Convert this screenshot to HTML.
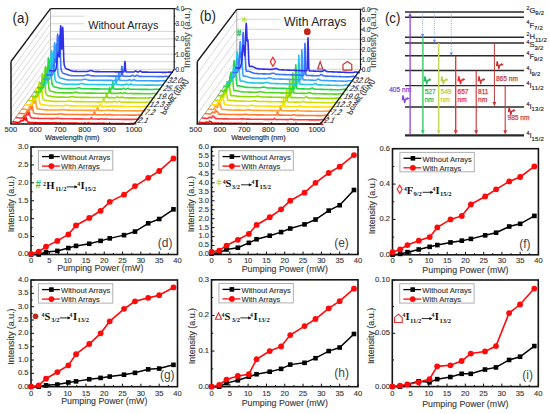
<!DOCTYPE html>
<html><head><meta charset="utf-8"><style>
html,body{margin:0;padding:0;background:#fff;width:550px;height:414px;overflow:hidden}
svg{display:block}
</style></head><body>
<svg width="550" height="414" viewBox="0 0 550 414">
<rect width="550" height="414" fill="#fff"/>
<path d="M31 254.5v-3M40.16 254.5v-1.7M49.31 254.5v-3M58.47 254.5v-1.7M67.62 254.5v-3M76.78 254.5v-1.7M85.94 254.5v-3M95.09 254.5v-1.7M104.25 254.5v-3M113.41 254.5v-1.7M122.56 254.5v-3M131.72 254.5v-1.7M140.88 254.5v-3M150.03 254.5v-1.7M159.19 254.5v-3M168.34 254.5v-1.7M177.5 254.5v-3M31 254.5h3M31 245.54h1.7M31 236.58h3M31 227.62h1.7M31 218.67h3M31 209.71h1.7M31 200.75h3M31 191.79h1.7M31 182.83h3M31 173.88h1.7M31 164.92h3M31 155.96h1.7M31 147h3" stroke="#111" stroke-width="1" fill="none"/>
<rect x="31" y="147" width="146.5" height="107.5" fill="none" stroke="#151515" stroke-width="1.6"/>
<g font-family="Liberation Sans" font-size="7.6" fill="#333" stroke="#333" stroke-width="0.12" text-anchor="middle"><text x="31" y="262.7">0</text><text x="49.31" y="262.7">5</text><text x="67.62" y="262.7">10</text><text x="85.94" y="262.7">15</text><text x="104.25" y="262.7">20</text><text x="122.56" y="262.7">25</text><text x="140.88" y="262.7">30</text><text x="159.19" y="262.7">35</text><text x="177.5" y="262.7">40</text></g>
<g font-family="Liberation Sans" font-size="7.6" fill="#333" stroke="#333" stroke-width="0.12" text-anchor="end"><text x="28.6" y="256.4">0.0</text><text x="28.6" y="238.48">0.5</text><text x="28.6" y="220.57">1.0</text><text x="28.6" y="202.65">1.5</text><text x="28.6" y="184.73">2.0</text><text x="28.6" y="166.82">2.5</text><text x="28.6" y="148.9">3.0</text></g>
<text transform="translate(100.25,271.4) scale(0.9,1)" font-family="Liberation Sans" font-size="9.8" fill="#333" stroke="#333" stroke-width="0.1" text-anchor="middle">Pumping Power (mW)</text>
<text transform="translate(13.5,204.15) rotate(-90)" font-family="Liberation Sans" font-size="8.9" fill="#333" stroke="#333" stroke-width="0.12" text-anchor="middle">Intensity (a.u.)</text>
<polyline points="31,254.5 38.69,254.5 46.02,251.99 57.37,250.92 68.36,248.05 76.05,245.9 89.23,243.75 100.59,240.88 109.74,238.38 124.03,235.15 135.01,231.57 148.2,223.32 159.19,219.03 173.47,209.35" fill="none" stroke="#000" stroke-width="1.5"/>
<g fill="#000"><rect x="28.7" y="252.2" width="4.6" height="4.6"/><rect x="36.39" y="252.2" width="4.6" height="4.6"/><rect x="43.72" y="249.69" width="4.6" height="4.6"/><rect x="55.07" y="248.62" width="4.6" height="4.6"/><rect x="66.06" y="245.75" width="4.6" height="4.6"/><rect x="73.75" y="243.6" width="4.6" height="4.6"/><rect x="86.93" y="241.45" width="4.6" height="4.6"/><rect x="98.29" y="238.58" width="4.6" height="4.6"/><rect x="107.44" y="236.07" width="4.6" height="4.6"/><rect x="121.73" y="232.85" width="4.6" height="4.6"/><rect x="132.71" y="229.27" width="4.6" height="4.6"/><rect x="145.9" y="221.02" width="4.6" height="4.6"/><rect x="156.89" y="216.72" width="4.6" height="4.6"/><rect x="171.17" y="207.05" width="4.6" height="4.6"/></g>
<polyline points="31,253.78 38.69,251.63 46.02,246.62 57.37,240.88 68.36,234.43 76.05,225.47 89.23,217.95 100.59,210.78 109.74,201.82 124.03,194.66 135.01,186.06 148.2,177.82 159.19,171.01 173.47,158.47" fill="none" stroke="#ff0a0a" stroke-width="1.6"/>
<g fill="#ff0a0a"><circle cx="31" cy="253.78" r="2.9"/><circle cx="38.69" cy="251.63" r="2.9"/><circle cx="46.02" cy="246.62" r="2.9"/><circle cx="57.37" cy="240.88" r="2.9"/><circle cx="68.36" cy="234.43" r="2.9"/><circle cx="76.05" cy="225.47" r="2.9"/><circle cx="89.23" cy="217.95" r="2.9"/><circle cx="100.59" cy="210.78" r="2.9"/><circle cx="109.74" cy="201.82" r="2.9"/><circle cx="124.03" cy="194.66" r="2.9"/><circle cx="135.01" cy="186.06" r="2.9"/><circle cx="148.2" cy="177.82" r="2.9"/><circle cx="159.19" cy="171.01" r="2.9"/><circle cx="173.47" cy="158.47" r="2.9"/></g>
<rect x="38.4" y="150.7" width="74.4" height="19.4" fill="#fff" stroke="#b0b0b0" stroke-width="1"/>
<line x1="42" y1="156.6" x2="59.8" y2="156.6" stroke="#000" stroke-width="1.3"/>
<rect x="49.1" y="154.3" width="4.6" height="4.6" fill="#000"/>
<line x1="42" y1="166.1" x2="59.8" y2="166.1" stroke="#ff0a0a" stroke-width="1.3"/>
<circle cx="51.4" cy="166.1" r="2.9" fill="#ff0a0a"/>
<text x="61" y="159.8" font-family="Liberation Sans" font-size="7.6" fill="#333" stroke="#333" stroke-width="0.12">Without Arrays</text>
<text x="61" y="168.8" font-family="Liberation Sans" font-size="7.6" fill="#333" stroke="#333" stroke-width="0.12">With Arrays</text>
<text x="165.1" y="247.3" font-family="Liberation Sans" font-size="12" fill="#444" text-anchor="middle">(d)</text>
<path d="M211.5 254.5v-3M220.66 254.5v-1.7M229.81 254.5v-3M238.97 254.5v-1.7M248.12 254.5v-3M257.28 254.5v-1.7M266.44 254.5v-3M275.59 254.5v-1.7M284.75 254.5v-3M293.91 254.5v-1.7M303.06 254.5v-3M312.22 254.5v-1.7M321.38 254.5v-3M330.53 254.5v-1.7M339.69 254.5v-3M348.84 254.5v-1.7M358 254.5v-3M211.5 254.5h3M211.5 250.02h1.7M211.5 245.54h3M211.5 241.06h1.7M211.5 236.58h3M211.5 232.1h1.7M211.5 227.62h3M211.5 223.15h1.7M211.5 218.67h3M211.5 214.19h1.7M211.5 209.71h3M211.5 205.23h1.7M211.5 200.75h3M211.5 196.27h1.7M211.5 191.79h3M211.5 187.31h1.7M211.5 182.83h3M211.5 178.35h1.7M211.5 173.88h3M211.5 169.4h1.7M211.5 164.92h3M211.5 160.44h1.7M211.5 155.96h3M211.5 151.48h1.7M211.5 147h3" stroke="#111" stroke-width="1" fill="none"/>
<rect x="211.5" y="147" width="146.5" height="107.5" fill="none" stroke="#151515" stroke-width="1.6"/>
<g font-family="Liberation Sans" font-size="7.6" fill="#333" stroke="#333" stroke-width="0.12" text-anchor="middle"><text x="211.5" y="262.7">0</text><text x="229.81" y="262.7">5</text><text x="248.12" y="262.7">10</text><text x="266.44" y="262.7">15</text><text x="284.75" y="262.7">20</text><text x="303.06" y="262.7">25</text><text x="321.38" y="262.7">30</text><text x="339.69" y="262.7">35</text><text x="358" y="262.7">40</text></g>
<g font-family="Liberation Sans" font-size="7.6" fill="#333" stroke="#333" stroke-width="0.12" text-anchor="end"><text x="209.1" y="256.4">0.0</text><text x="209.1" y="247.44">0.5</text><text x="209.1" y="238.48">1.0</text><text x="209.1" y="229.53">1.5</text><text x="209.1" y="220.57">2.0</text><text x="209.1" y="211.61">2.5</text><text x="209.1" y="202.65">3.0</text><text x="209.1" y="193.69">3.5</text><text x="209.1" y="184.73">4.0</text><text x="209.1" y="175.78">4.5</text><text x="209.1" y="166.82">5.0</text><text x="209.1" y="157.86">5.5</text><text x="209.1" y="148.9">6.0</text></g>
<text transform="translate(284.75,271.8) scale(0.9,1)" font-family="Liberation Sans" font-size="9.8" fill="#333" stroke="#333" stroke-width="0.1" text-anchor="middle">Pumping Power (mW)</text>
<text transform="translate(193.5,204.15) rotate(-90)" font-family="Liberation Sans" font-size="8.9" fill="#333" stroke="#333" stroke-width="0.12" text-anchor="middle">Intensity (a.u.)</text>
<polyline points="211.5,253.6 219.19,252.71 226.52,249.48 237.87,247.69 248.86,242.85 256.55,239.27 269.73,235.69 281.09,232.1 290.24,228.52 304.53,224.4 315.51,219.56 328.7,210.6 339.69,205.23 353.97,190" fill="none" stroke="#000" stroke-width="1.5"/>
<g fill="#000"><rect x="209.2" y="251.3" width="4.6" height="4.6"/><rect x="216.89" y="250.41" width="4.6" height="4.6"/><rect x="224.22" y="247.18" width="4.6" height="4.6"/><rect x="235.57" y="245.39" width="4.6" height="4.6"/><rect x="246.56" y="240.55" width="4.6" height="4.6"/><rect x="254.25" y="236.97" width="4.6" height="4.6"/><rect x="267.43" y="233.39" width="4.6" height="4.6"/><rect x="278.79" y="229.8" width="4.6" height="4.6"/><rect x="287.94" y="226.22" width="4.6" height="4.6"/><rect x="302.23" y="222.1" width="4.6" height="4.6"/><rect x="313.21" y="217.26" width="4.6" height="4.6"/><rect x="326.4" y="208.3" width="4.6" height="4.6"/><rect x="337.39" y="202.93" width="4.6" height="4.6"/><rect x="351.67" y="187.7" width="4.6" height="4.6"/></g>
<polyline points="211.5,251.81 219.19,250.56 226.52,245.54 237.87,239.81 248.86,233.9 256.55,224.94 269.73,217.23 281.09,209.35 290.24,200.75 304.53,192.69 315.51,182.83 328.7,172.98 339.69,166.71 353.97,155.06" fill="none" stroke="#ff0a0a" stroke-width="1.6"/>
<g fill="#ff0a0a"><circle cx="211.5" cy="251.81" r="2.9"/><circle cx="219.19" cy="250.56" r="2.9"/><circle cx="226.52" cy="245.54" r="2.9"/><circle cx="237.87" cy="239.81" r="2.9"/><circle cx="248.86" cy="233.9" r="2.9"/><circle cx="256.55" cy="224.94" r="2.9"/><circle cx="269.73" cy="217.23" r="2.9"/><circle cx="281.09" cy="209.35" r="2.9"/><circle cx="290.24" cy="200.75" r="2.9"/><circle cx="304.53" cy="192.69" r="2.9"/><circle cx="315.51" cy="182.83" r="2.9"/><circle cx="328.7" cy="172.98" r="2.9"/><circle cx="339.69" cy="166.71" r="2.9"/><circle cx="353.97" cy="155.06" r="2.9"/></g>
<rect x="218.9" y="150.7" width="74.4" height="19.4" fill="#fff" stroke="#b0b0b0" stroke-width="1"/>
<line x1="222.5" y1="156.6" x2="240.3" y2="156.6" stroke="#000" stroke-width="1.3"/>
<rect x="229.6" y="154.3" width="4.6" height="4.6" fill="#000"/>
<line x1="222.5" y1="166.1" x2="240.3" y2="166.1" stroke="#ff0a0a" stroke-width="1.3"/>
<circle cx="231.9" cy="166.1" r="2.9" fill="#ff0a0a"/>
<text x="241.5" y="159.8" font-family="Liberation Sans" font-size="7.6" fill="#333" stroke="#333" stroke-width="0.12">Without Arrays</text>
<text x="241.5" y="168.8" font-family="Liberation Sans" font-size="7.6" fill="#333" stroke="#333" stroke-width="0.12">With Arrays</text>
<text x="341.5" y="247.3" font-family="Liberation Sans" font-size="12" fill="#444" text-anchor="middle">(e)</text>
<path d="M392.5 254.8v-3M401.62 254.8v-1.7M410.74 254.8v-3M419.86 254.8v-1.7M428.98 254.8v-3M438.09 254.8v-1.7M447.21 254.8v-3M456.33 254.8v-1.7M465.45 254.8v-3M474.57 254.8v-1.7M483.69 254.8v-3M492.81 254.8v-1.7M501.92 254.8v-3M511.04 254.8v-1.7M520.16 254.8v-3M529.28 254.8v-1.7M538.4 254.8v-3M392.5 254.8h3M392.5 237.12h1.7M392.5 219.43h3M392.5 201.75h1.7M392.5 184.07h3M392.5 166.38h1.7M392.5 148.7h3" stroke="#111" stroke-width="1" fill="none"/>
<rect x="392.5" y="148.7" width="145.9" height="106.1" fill="none" stroke="#151515" stroke-width="1.6"/>
<g font-family="Liberation Sans" font-size="7.6" fill="#333" stroke="#333" stroke-width="0.12" text-anchor="middle"><text x="392.5" y="263.4">0</text><text x="410.74" y="263.4">5</text><text x="428.98" y="263.4">10</text><text x="447.21" y="263.4">15</text><text x="465.45" y="263.4">20</text><text x="483.69" y="263.4">25</text><text x="501.92" y="263.4">30</text><text x="520.16" y="263.4">35</text><text x="538.4" y="263.4">40</text></g>
<g font-family="Liberation Sans" font-size="7.6" fill="#333" stroke="#333" stroke-width="0.12" text-anchor="end"><text x="390.1" y="256.7">0.0</text><text x="390.1" y="221.33">0.2</text><text x="390.1" y="185.97">0.4</text><text x="390.1" y="150.6">0.6</text></g>
<text transform="translate(465.45,273.1) scale(0.9,1)" font-family="Liberation Sans" font-size="9.8" fill="#333" stroke="#333" stroke-width="0.1" text-anchor="middle">Pumping Power (mW)</text>
<text transform="translate(374.5,206.05) rotate(-90)" font-family="Liberation Sans" font-size="8.9" fill="#333" stroke="#333" stroke-width="0.12" text-anchor="middle">Intensity (a.u.)</text>
<polyline points="392.5,254.8 400.16,253.92 407.45,252.15 418.76,249.5 429.7,246.84 437.36,245.07 450.5,242.42 461.8,240.65 470.92,238.89 485.15,235.35 496.09,232.7 509.22,226.51 520.16,223.85 534.39,215.9" fill="none" stroke="#000" stroke-width="1.5"/>
<g fill="#000"><rect x="390.2" y="252.5" width="4.6" height="4.6"/><rect x="397.86" y="251.62" width="4.6" height="4.6"/><rect x="405.15" y="249.85" width="4.6" height="4.6"/><rect x="416.46" y="247.19" width="4.6" height="4.6"/><rect x="427.4" y="244.54" width="4.6" height="4.6"/><rect x="435.06" y="242.77" width="4.6" height="4.6"/><rect x="448.2" y="240.12" width="4.6" height="4.6"/><rect x="459.5" y="238.35" width="4.6" height="4.6"/><rect x="468.62" y="236.59" width="4.6" height="4.6"/><rect x="482.85" y="233.05" width="4.6" height="4.6"/><rect x="493.79" y="230.4" width="4.6" height="4.6"/><rect x="506.92" y="224.21" width="4.6" height="4.6"/><rect x="517.86" y="221.55" width="4.6" height="4.6"/><rect x="532.09" y="213.6" width="4.6" height="4.6"/></g>
<polyline points="392.5,252.15 400.16,249.5 407.45,245.07 418.76,240.65 429.7,237.12 437.36,227.39 450.5,219.43 461.8,215.9 470.92,204.4 485.15,196.44 496.09,189.37 509.22,181.41 520.16,176.99 534.39,166.38" fill="none" stroke="#ff0a0a" stroke-width="1.6"/>
<g fill="#ff0a0a"><circle cx="392.5" cy="252.15" r="2.9"/><circle cx="400.16" cy="249.5" r="2.9"/><circle cx="407.45" cy="245.07" r="2.9"/><circle cx="418.76" cy="240.65" r="2.9"/><circle cx="429.7" cy="237.12" r="2.9"/><circle cx="437.36" cy="227.39" r="2.9"/><circle cx="450.5" cy="219.43" r="2.9"/><circle cx="461.8" cy="215.9" r="2.9"/><circle cx="470.92" cy="204.4" r="2.9"/><circle cx="485.15" cy="196.44" r="2.9"/><circle cx="496.09" cy="189.37" r="2.9"/><circle cx="509.22" cy="181.41" r="2.9"/><circle cx="520.16" cy="176.99" r="2.9"/><circle cx="534.39" cy="166.38" r="2.9"/></g>
<rect x="399.9" y="152.4" width="74.4" height="19.4" fill="#fff" stroke="#b0b0b0" stroke-width="1"/>
<line x1="403.5" y1="158.3" x2="421.3" y2="158.3" stroke="#000" stroke-width="1.3"/>
<rect x="410.6" y="156" width="4.6" height="4.6" fill="#000"/>
<line x1="403.5" y1="167.8" x2="421.3" y2="167.8" stroke="#ff0a0a" stroke-width="1.3"/>
<circle cx="412.9" cy="167.8" r="2.9" fill="#ff0a0a"/>
<text x="422.5" y="161.5" font-family="Liberation Sans" font-size="7.6" fill="#333" stroke="#333" stroke-width="0.12">Without Arrays</text>
<text x="422.5" y="170.5" font-family="Liberation Sans" font-size="7.6" fill="#333" stroke="#333" stroke-width="0.12">With Arrays</text>
<text x="524.9" y="247.7" font-family="Liberation Sans" font-size="12" fill="#444" text-anchor="middle">(f)</text>
<path d="M31 386.7v-3M40.16 386.7v-1.7M49.31 386.7v-3M58.47 386.7v-1.7M67.62 386.7v-3M76.78 386.7v-1.7M85.94 386.7v-3M95.09 386.7v-1.7M104.25 386.7v-3M113.41 386.7v-1.7M122.56 386.7v-3M131.72 386.7v-1.7M140.88 386.7v-3M150.03 386.7v-1.7M159.19 386.7v-3M168.34 386.7v-1.7M177.5 386.7v-3M31 386.7h3M31 380.03h1.7M31 373.36h3M31 366.69h1.7M31 360.02h3M31 353.36h1.7M31 346.69h3M31 340.02h1.7M31 333.35h3M31 326.68h1.7M31 320.01h3M31 313.34h1.7M31 306.68h3M31 300.01h1.7M31 293.34h3M31 286.67h1.7M31 280h3" stroke="#111" stroke-width="1" fill="none"/>
<rect x="31" y="280" width="146.5" height="106.7" fill="none" stroke="#151515" stroke-width="1.6"/>
<g font-family="Liberation Sans" font-size="7.6" fill="#333" stroke="#333" stroke-width="0.12" text-anchor="middle"><text x="31" y="395.5">0</text><text x="49.31" y="395.5">5</text><text x="67.62" y="395.5">10</text><text x="85.94" y="395.5">15</text><text x="104.25" y="395.5">20</text><text x="122.56" y="395.5">25</text><text x="140.88" y="395.5">30</text><text x="159.19" y="395.5">35</text><text x="177.5" y="395.5">40</text></g>
<g font-family="Liberation Sans" font-size="7.6" fill="#333" stroke="#333" stroke-width="0.12" text-anchor="end"><text x="28.6" y="388.6">0.0</text><text x="28.6" y="375.26">0.5</text><text x="28.6" y="361.92">1.0</text><text x="28.6" y="348.59">1.5</text><text x="28.6" y="335.25">2.0</text><text x="28.6" y="321.91">2.5</text><text x="28.6" y="308.57">3.0</text><text x="28.6" y="295.24">3.5</text><text x="28.6" y="281.9">4.0</text></g>
<text transform="translate(104.25,403.5) scale(0.9,1)" font-family="Liberation Sans" font-size="9.8" fill="#333" stroke="#333" stroke-width="0.1" text-anchor="middle">Pumping Power (mW)</text>
<text transform="translate(13.5,336.55) rotate(-90)" font-family="Liberation Sans" font-size="8.9" fill="#333" stroke="#333" stroke-width="0.12" text-anchor="middle">Intensity (a.u.)</text>
<polyline points="31,386.7 38.69,386.7 46.02,385.37 57.37,384.57 68.36,382.43 76.05,381.37 89.23,379.23 100.59,377.9 109.74,376.56 124.03,374.7 135.01,372.83 148.2,369.36 159.19,368.56 173.47,364.83" fill="none" stroke="#000" stroke-width="1.5"/>
<g fill="#000"><rect x="28.7" y="384.4" width="4.6" height="4.6"/><rect x="36.39" y="384.4" width="4.6" height="4.6"/><rect x="43.72" y="383.07" width="4.6" height="4.6"/><rect x="55.07" y="382.27" width="4.6" height="4.6"/><rect x="66.06" y="380.13" width="4.6" height="4.6"/><rect x="73.75" y="379.06" width="4.6" height="4.6"/><rect x="86.93" y="376.93" width="4.6" height="4.6"/><rect x="98.29" y="375.6" width="4.6" height="4.6"/><rect x="107.44" y="374.26" width="4.6" height="4.6"/><rect x="121.73" y="372.4" width="4.6" height="4.6"/><rect x="132.71" y="370.53" width="4.6" height="4.6"/><rect x="145.9" y="367.06" width="4.6" height="4.6"/><rect x="156.89" y="366.26" width="4.6" height="4.6"/><rect x="171.17" y="362.53" width="4.6" height="4.6"/></g>
<polyline points="31,386.7 38.69,385.37 46.02,378.7 57.37,372.03 68.36,365.36 76.05,354.16 89.23,344.02 100.59,333.35 109.74,321.35 124.03,308.81 135.01,301.34 148.2,297.87 159.19,295.2 173.47,287.47" fill="none" stroke="#ff0a0a" stroke-width="1.6"/>
<g fill="#ff0a0a"><circle cx="31" cy="386.7" r="2.9"/><circle cx="38.69" cy="385.37" r="2.9"/><circle cx="46.02" cy="378.7" r="2.9"/><circle cx="57.37" cy="372.03" r="2.9"/><circle cx="68.36" cy="365.36" r="2.9"/><circle cx="76.05" cy="354.16" r="2.9"/><circle cx="89.23" cy="344.02" r="2.9"/><circle cx="100.59" cy="333.35" r="2.9"/><circle cx="109.74" cy="321.35" r="2.9"/><circle cx="124.03" cy="308.81" r="2.9"/><circle cx="135.01" cy="301.34" r="2.9"/><circle cx="148.2" cy="297.87" r="2.9"/><circle cx="159.19" cy="295.2" r="2.9"/><circle cx="173.47" cy="287.47" r="2.9"/></g>
<rect x="38.4" y="283.7" width="74.4" height="19.4" fill="#fff" stroke="#b0b0b0" stroke-width="1"/>
<line x1="42" y1="289.6" x2="59.8" y2="289.6" stroke="#000" stroke-width="1.3"/>
<rect x="49.1" y="287.3" width="4.6" height="4.6" fill="#000"/>
<line x1="42" y1="299.1" x2="59.8" y2="299.1" stroke="#ff0a0a" stroke-width="1.3"/>
<circle cx="51.4" cy="299.1" r="2.9" fill="#ff0a0a"/>
<text x="61" y="292.8" font-family="Liberation Sans" font-size="7.6" fill="#333" stroke="#333" stroke-width="0.12">Without Arrays</text>
<text x="61" y="301.8" font-family="Liberation Sans" font-size="7.6" fill="#333" stroke="#333" stroke-width="0.12">With Arrays</text>
<text x="167.3" y="378.6" font-family="Liberation Sans" font-size="12" fill="#444" text-anchor="middle">(g)</text>
<path d="M211.5 386.7v-3M220.66 386.7v-1.7M229.81 386.7v-3M238.97 386.7v-1.7M248.12 386.7v-3M257.28 386.7v-1.7M266.44 386.7v-3M275.59 386.7v-1.7M284.75 386.7v-3M293.91 386.7v-1.7M303.06 386.7v-3M312.22 386.7v-1.7M321.38 386.7v-3M330.53 386.7v-1.7M339.69 386.7v-3M348.84 386.7v-1.7M358 386.7v-3M211.5 386.7h3M211.5 368.88h1.7M211.5 351.07h3M211.5 333.25h1.7M211.5 315.43h3M211.5 297.62h1.7M211.5 279.8h3" stroke="#111" stroke-width="1" fill="none"/>
<rect x="211.5" y="279.8" width="146.5" height="106.9" fill="none" stroke="#151515" stroke-width="1.6"/>
<g font-family="Liberation Sans" font-size="7.6" fill="#333" stroke="#333" stroke-width="0.12" text-anchor="middle"><text x="211.5" y="396">0</text><text x="229.81" y="396">5</text><text x="248.12" y="396">10</text><text x="266.44" y="396">15</text><text x="284.75" y="396">20</text><text x="303.06" y="396">25</text><text x="321.38" y="396">30</text><text x="339.69" y="396">35</text><text x="358" y="396">40</text></g>
<g font-family="Liberation Sans" font-size="7.6" fill="#333" stroke="#333" stroke-width="0.12" text-anchor="end"><text x="209.1" y="388.6">0.0</text><text x="209.1" y="352.97">0.1</text><text x="209.1" y="317.33">0.2</text><text x="209.1" y="281.7">0.3</text></g>
<text transform="translate(284.75,405.7) scale(0.9,1)" font-family="Liberation Sans" font-size="9.8" fill="#333" stroke="#333" stroke-width="0.1" text-anchor="middle">Pumping Power (mW)</text>
<text transform="translate(194.5,336.05) rotate(-90)" font-family="Liberation Sans" font-size="8.9" fill="#333" stroke="#333" stroke-width="0.12" text-anchor="middle">Intensity (a.u.)</text>
<polyline points="211.5,386.7 219.19,386.7 226.52,383.14 237.87,380.29 248.86,376.72 256.55,374.23 269.73,371.73 281.09,368.88 290.24,364.61 304.53,362.83 315.51,358.19 328.7,351.07 339.69,347.5 353.97,333.96" fill="none" stroke="#000" stroke-width="1.5"/>
<g fill="#000"><rect x="209.2" y="384.4" width="4.6" height="4.6"/><rect x="216.89" y="384.4" width="4.6" height="4.6"/><rect x="224.22" y="380.84" width="4.6" height="4.6"/><rect x="235.57" y="377.99" width="4.6" height="4.6"/><rect x="246.56" y="374.42" width="4.6" height="4.6"/><rect x="254.25" y="371.93" width="4.6" height="4.6"/><rect x="267.43" y="369.43" width="4.6" height="4.6"/><rect x="278.79" y="366.58" width="4.6" height="4.6"/><rect x="287.94" y="362.31" width="4.6" height="4.6"/><rect x="302.23" y="360.53" width="4.6" height="4.6"/><rect x="313.21" y="355.89" width="4.6" height="4.6"/><rect x="326.4" y="348.77" width="4.6" height="4.6"/><rect x="337.39" y="345.2" width="4.6" height="4.6"/><rect x="351.67" y="331.66" width="4.6" height="4.6"/></g>
<polyline points="211.5,386.7 219.19,384.92 226.52,379.57 237.87,376.01 248.86,374.23 256.55,359.26 269.73,351.07 281.09,346.43 290.24,335.03 304.53,326.12 315.51,319 328.7,308.31 339.69,301.18 353.97,288.71" fill="none" stroke="#ff0a0a" stroke-width="1.6"/>
<g fill="#ff0a0a"><circle cx="211.5" cy="386.7" r="2.9"/><circle cx="219.19" cy="384.92" r="2.9"/><circle cx="226.52" cy="379.57" r="2.9"/><circle cx="237.87" cy="376.01" r="2.9"/><circle cx="248.86" cy="374.23" r="2.9"/><circle cx="256.55" cy="359.26" r="2.9"/><circle cx="269.73" cy="351.07" r="2.9"/><circle cx="281.09" cy="346.43" r="2.9"/><circle cx="290.24" cy="335.03" r="2.9"/><circle cx="304.53" cy="326.12" r="2.9"/><circle cx="315.51" cy="319" r="2.9"/><circle cx="328.7" cy="308.31" r="2.9"/><circle cx="339.69" cy="301.18" r="2.9"/><circle cx="353.97" cy="288.71" r="2.9"/></g>
<rect x="218.9" y="283.5" width="74.4" height="19.4" fill="#fff" stroke="#b0b0b0" stroke-width="1"/>
<line x1="222.5" y1="289.4" x2="240.3" y2="289.4" stroke="#000" stroke-width="1.3"/>
<rect x="229.6" y="287.1" width="4.6" height="4.6" fill="#000"/>
<line x1="222.5" y1="298.9" x2="240.3" y2="298.9" stroke="#ff0a0a" stroke-width="1.3"/>
<circle cx="231.9" cy="298.9" r="2.9" fill="#ff0a0a"/>
<text x="241.5" y="292.6" font-family="Liberation Sans" font-size="7.6" fill="#333" stroke="#333" stroke-width="0.12">Without Arrays</text>
<text x="241.5" y="301.6" font-family="Liberation Sans" font-size="7.6" fill="#333" stroke="#333" stroke-width="0.12">With Arrays</text>
<text x="341.6" y="376.5" font-family="Liberation Sans" font-size="12" fill="#444" text-anchor="middle">(h)</text>
<path d="M392.3 386.6v-3M401.43 386.6v-1.7M410.55 386.6v-3M419.68 386.6v-1.7M428.8 386.6v-3M437.93 386.6v-1.7M447.05 386.6v-3M456.18 386.6v-1.7M465.3 386.6v-3M474.42 386.6v-1.7M483.55 386.6v-3M492.67 386.6v-1.7M501.8 386.6v-3M510.92 386.6v-1.7M520.05 386.6v-3M529.17 386.6v-1.7M538.3 386.6v-3M392.3 386.6h3M392.3 359.95h1.7M392.3 333.3h3M392.3 306.65h1.7M392.3 280h3" stroke="#111" stroke-width="1" fill="none"/>
<rect x="392.3" y="280" width="146" height="106.6" fill="none" stroke="#151515" stroke-width="1.6"/>
<g font-family="Liberation Sans" font-size="7.6" fill="#333" stroke="#333" stroke-width="0.12" text-anchor="middle"><text x="392.3" y="395.9">0</text><text x="410.55" y="395.9">5</text><text x="428.8" y="395.9">10</text><text x="447.05" y="395.9">15</text><text x="465.3" y="395.9">20</text><text x="483.55" y="395.9">25</text><text x="501.8" y="395.9">30</text><text x="520.05" y="395.9">35</text><text x="538.3" y="395.9">40</text></g>
<g font-family="Liberation Sans" font-size="7.6" fill="#333" stroke="#333" stroke-width="0.12" text-anchor="end"><text x="389.9" y="388.5">0.00</text><text x="389.9" y="335.2">0.05</text><text x="389.9" y="281.9">0.10</text></g>
<text transform="translate(465.3,406.8) scale(0.9,1)" font-family="Liberation Sans" font-size="9.8" fill="#333" stroke="#333" stroke-width="0.1" text-anchor="middle">Pumping Power (mW)</text>
<text transform="translate(373.5,336) rotate(-90)" font-family="Liberation Sans" font-size="8.9" fill="#333" stroke="#333" stroke-width="0.12" text-anchor="middle">Intensity (a.u.)</text>
<polyline points="392.3,386.6 399.97,386.6 407.26,384.47 418.58,381.27 429.53,382.34 437.19,379.14 450.33,377.01 461.65,373.81 470.77,373.81 485.01,369.54 495.96,367.41 509.1,359.95 520.05,356.75 534.28,346.09" fill="none" stroke="#000" stroke-width="1.5"/>
<g fill="#000"><rect x="390" y="384.3" width="4.6" height="4.6"/><rect x="397.67" y="384.3" width="4.6" height="4.6"/><rect x="404.96" y="382.17" width="4.6" height="4.6"/><rect x="416.28" y="378.97" width="4.6" height="4.6"/><rect x="427.23" y="380.04" width="4.6" height="4.6"/><rect x="434.89" y="376.84" width="4.6" height="4.6"/><rect x="448.03" y="374.71" width="4.6" height="4.6"/><rect x="459.35" y="371.51" width="4.6" height="4.6"/><rect x="468.47" y="371.51" width="4.6" height="4.6"/><rect x="482.71" y="367.24" width="4.6" height="4.6"/><rect x="493.66" y="365.11" width="4.6" height="4.6"/><rect x="506.8" y="357.65" width="4.6" height="4.6"/><rect x="517.75" y="354.45" width="4.6" height="4.6"/><rect x="531.99" y="343.79" width="4.6" height="4.6"/></g>
<polyline points="392.3,386.6 399.97,385.53 407.26,384.47 418.58,382.34 429.53,379.14 437.19,366.35 450.33,365.28 461.65,361.02 470.77,353.55 485.01,351.42 495.96,346.09 509.1,313.05 520.05,304.52 534.28,288.53" fill="none" stroke="#ff0a0a" stroke-width="1.6"/>
<g fill="#ff0a0a"><circle cx="392.3" cy="386.6" r="2.9"/><circle cx="399.97" cy="385.53" r="2.9"/><circle cx="407.26" cy="384.47" r="2.9"/><circle cx="418.58" cy="382.34" r="2.9"/><circle cx="429.53" cy="379.14" r="2.9"/><circle cx="437.19" cy="366.35" r="2.9"/><circle cx="450.33" cy="365.28" r="2.9"/><circle cx="461.65" cy="361.02" r="2.9"/><circle cx="470.77" cy="353.55" r="2.9"/><circle cx="485.01" cy="351.42" r="2.9"/><circle cx="495.96" cy="346.09" r="2.9"/><circle cx="509.1" cy="313.05" r="2.9"/><circle cx="520.05" cy="304.52" r="2.9"/><circle cx="534.28" cy="288.53" r="2.9"/></g>
<rect x="399.7" y="283.7" width="74.4" height="19.4" fill="#fff" stroke="#b0b0b0" stroke-width="1"/>
<line x1="403.3" y1="289.6" x2="421.1" y2="289.6" stroke="#000" stroke-width="1.3"/>
<rect x="410.4" y="287.3" width="4.6" height="4.6" fill="#000"/>
<line x1="403.3" y1="299.1" x2="421.1" y2="299.1" stroke="#ff0a0a" stroke-width="1.3"/>
<circle cx="412.7" cy="299.1" r="2.9" fill="#ff0a0a"/>
<text x="422.3" y="292.8" font-family="Liberation Sans" font-size="7.6" fill="#333" stroke="#333" stroke-width="0.12">Without Arrays</text>
<text x="422.3" y="301.8" font-family="Liberation Sans" font-size="7.6" fill="#333" stroke="#333" stroke-width="0.12">With Arrays</text>
<text x="527.6" y="379" font-family="Liberation Sans" font-size="12" fill="#444" text-anchor="middle">(i)</text>
<g font-family="Liberation Serif" font-weight="bold" fill="#111"><text x="42.9" y="185.6" font-size="5.8">2</text><text x="46.2" y="188.6" font-size="10.6">H</text><text x="55.2" y="190.8" font-size="6.5">11/2</text><path d="M66.7 186.9H77.2" stroke="#111" stroke-width="0.9"/><path d="M77.5 186.9l-3 -1.6v3.2z" fill="#111"/><text x="77.3" y="185.6" font-size="5.8">4</text><text x="80.6" y="188.6" font-size="10.6">I</text><text x="84.4" y="190.8" font-size="6.5">15/2</text></g>
<g font-family="Liberation Serif" font-weight="bold" fill="#111"><text x="222.7" y="183.5" font-size="5.8">4</text><text x="225.5" y="186.5" font-size="10.6">S</text><text x="231.8" y="188.7" font-size="6.5">3/2</text><path d="M241 184.8H251.5" stroke="#111" stroke-width="0.9"/><path d="M251.8 184.8l-3 -1.6v3.2z" fill="#111"/><text x="251.6" y="183.5" font-size="5.8">4</text><text x="254.8" y="186.5" font-size="10.6">I</text><text x="259.4" y="188.7" font-size="6.5">15/2</text></g>
<g font-family="Liberation Serif" font-weight="bold" fill="#111"><text x="404.1" y="191" font-size="5.8">4</text><text x="406.8" y="194" font-size="10.6">F</text><text x="413.4" y="196.2" font-size="6.5">9/2</text><path d="M422.5 192.3H433" stroke="#111" stroke-width="0.9"/><path d="M433.3 192.3l-3 -1.6v3.2z" fill="#111"/><text x="432.6" y="191" font-size="5.8">4</text><text x="435.4" y="194" font-size="10.6">I</text><text x="440" y="196.2" font-size="6.5">15/2</text></g>
<g font-family="Liberation Serif" font-weight="bold" fill="#111"><text x="41.5" y="316.6" font-size="5.8">4</text><text x="44.5" y="319.6" font-size="10.6">S</text><text x="51.3" y="321.8" font-size="6.5">3/2</text><path d="M59.7 317.9H70.2" stroke="#111" stroke-width="0.9"/><path d="M70.5 317.9l-3 -1.6v3.2z" fill="#111"/><text x="69.6" y="316.6" font-size="5.8">4</text><text x="72.9" y="319.6" font-size="10.6">I</text><text x="77.4" y="321.8" font-size="6.5">13/2</text></g>
<g font-family="Liberation Serif" font-weight="bold" fill="#111"><text x="221.6" y="316.6" font-size="5.8">4</text><text x="224.5" y="319.6" font-size="10.6">S</text><text x="231.7" y="321.8" font-size="6.5">3/2</text><path d="M240.4 317.9H250.9" stroke="#111" stroke-width="0.9"/><path d="M251.2 317.9l-3 -1.6v3.2z" fill="#111"/><text x="250.1" y="316.6" font-size="5.8">4</text><text x="253.5" y="319.6" font-size="10.6">I</text><text x="258.1" y="321.8" font-size="6.5">13/2</text></g>
<g font-family="Liberation Serif" font-weight="bold" fill="#111"><text x="402.5" y="317.3" font-size="5.8">4</text><text x="405.5" y="320.3" font-size="10.6">I</text><text x="410" y="322.5" font-size="6.5">11/2</text><path d="M421.6 318.6H432.1" stroke="#111" stroke-width="0.9"/><path d="M432.4 318.6l-3 -1.6v3.2z" fill="#111"/><text x="431.6" y="317.3" font-size="5.8">4</text><text x="434.8" y="320.3" font-size="10.6">I</text><text x="439.4" y="322.5" font-size="6.5">13/2</text></g>
<text x="38.3" y="188.4" font-family="Liberation Sans" font-weight="bold" font-size="10" fill="#2fbf62" text-anchor="middle">#</text>
<path d="M399.7 185.1L402.2 189.2L399.7 193.4L397.2 189.2Z" fill="none" stroke="#f22" stroke-width="1.1"/>
<circle cx="35.5" cy="316.2" r="2.8" fill="#b82a1e"/>
<path d="M218.5 312.8L221.6 319.2H215.4Z" fill="none" stroke="#cc3333" stroke-width="1.1"/>
<path d="M398.4 314.2L402.2 317.4V322.5H394.6V317.4Z" fill="none" stroke="#e53030" stroke-width="1.1"/>
<path d="M11 116.41L50.5 61.71M11 108.83L50.5 54.12M11 101.24L50.5 46.54M11 93.65L50.5 38.95M11 86.06L50.5 31.36M11 78.47L50.5 23.77M11 70.89L50.5 16.19" stroke="#c8c8c8" stroke-width="0.7" fill="none"/>
<path d="M50.5 69.3H174.2M50.5 61.71H174.2M50.5 54.12H174.2M50.5 46.54H174.2M50.5 38.95H174.2M50.5 31.36H174.2M50.5 23.77H174.2M50.5 16.19H174.2" stroke="#d0d0d0" stroke-width="0.9" fill="none"/>
<rect x="84" y="12" width="89.5" height="16.5" fill="#fff"/>
<path d="M50.5 8.6V69.3" stroke="#999" stroke-width="0.8"/>
<path d="M11 124L50.5 69.3" stroke="#888" stroke-width="0.8"/>
<polyline points="12.4,121.97 12.65,121.95 12.9,121.93 13.15,121.92 13.4,121.91 13.64,121.91 13.89,121.92 14.14,121.93 14.39,121.95 14.64,121.97 14.89,122 15.14,122.03 15.39,122.06 15.64,122.1 15.89,122.14 16.14,122.18 16.38,122.21 16.63,122.25 16.88,122.29 17.13,122.32 17.38,122.36 17.63,122.38 17.88,122.41 18.13,122.42 18.38,122.43 18.62,122.42 18.87,122.4 19.12,122.34 19.37,122.25 19.62,122.11 19.87,121.92 20.12,121.7 20.37,121.43 20.62,121.16 20.87,120.9 21.12,120.68 21.36,120.54 21.61,120.49 21.86,120.54 22.11,120.67 22.36,120.84 22.61,120.96 22.86,120.89 23.11,120.48 23.36,119.68 23.61,118.63 23.85,117.72 24.1,117.39 24.35,117.82 24.6,118.77 24.85,119.7 25.1,120.09 25.35,119.76 25.6,118.89 25.85,117.99 26.09,117.59 26.34,117.94 26.59,118.89 26.84,120.01 27.09,120.95 27.34,121.56 27.59,121.87 27.84,122.02 28.09,122.09 28.34,122.15 28.59,122.2 28.83,122.26 29.08,122.31 29.33,122.35 29.58,122.38 29.83,122.4 30.08,122.42 30.33,122.43 30.58,122.44 30.83,122.45 31.08,122.46 31.32,122.47 31.57,122.48 31.82,122.49 32.07,122.51 32.32,122.52 32.57,122.53 32.82,122.55 33.07,122.56 33.32,122.58 33.56,122.59 33.81,122.61 34.06,122.62 34.31,122.64 34.56,122.65 34.81,122.66 35.06,122.67 35.31,122.69 35.56,122.7 35.81,122.7 36.05,122.71 36.3,122.72 36.55,122.73 36.8,122.73 37.05,122.74 37.3,122.75 38.05,122.76 38.79,122.77 39.54,122.78 40.29,122.79 41.04,122.8 41.78,122.81 42.53,122.81 43.28,122.82 44.02,122.83 44.77,122.84 45.52,122.85 46.26,122.85 47.01,122.86 47.76,122.87 48.5,122.88 49.25,122.88 50,122.88 50.75,122.87 51.49,122.84 52.24,122.79 52.99,122.73 53.73,122.69 54.48,122.69 55.23,122.73 55.98,122.8 56.72,122.87 57.47,122.93 58.22,122.96 58.96,122.98 59.71,122.99 60.46,123 61.2,123.01 61.95,123.02 62.7,123.03 63.45,123.03 64.19,123.04 64.94,123.05 65.69,123.06 66.43,123.06 67.18,123.07 67.93,123.08 68.67,123.09 69.42,123.1 70.17,123.1 70.92,123.11 71.66,123.12 72.41,123.13 73.16,123.13 73.9,123.14 74.65,123.15 75.4,123.16 76.14,123.17 76.89,123.17 77.64,123.18 78.39,123.19 79.13,123.2 79.88,123.2 80.63,123.21 81.37,123.22 82.12,123.23 82.87,123.24 83.12,123.24 83.37,123.24 83.61,123.24 83.86,123.25 84.11,123.25 84.36,123.25 84.61,123.25 84.86,123.26 85.11,123.26 85.36,123.26 85.61,123.26 85.86,123.27 86.1,123.27 86.35,123.27 86.6,123.27 86.85,123.28 87.1,123.28 87.35,123.27 87.6,123.22 87.85,123.08 88.1,122.89 88.34,122.79 88.59,122.9 88.84,123.09 89.09,123.23 89.34,123.29 89.59,123.3 89.84,123.31 90.09,123.31 90.34,123.31 90.59,123.32 90.84,123.32 91.08,123.32 91.33,123.32 91.58,123.33 91.83,123.33 92.08,123.33 92.33,123.33 92.58,123.34 92.83,123.34 93.08,123.34 93.33,123.34 93.57,123.35 93.82,123.35 94.07,123.35 94.32,123.36 94.57,123.36 95.32,123.37 96.06,123.37 96.81,123.38 97.56,123.35 98.31,123.22 99.05,123.1 99.8,123.23 100.55,123.38 101.29,123.42 102.04,123.4 102.79,123.26 103.53,123.15 104.28,123.28 105.03,123.43 105.78,123.47 106.52,123.48 107.27,123.49 108.02,123.5 108.76,123.51 109.51,123.51 110.26,123.52 111,123.53 111.75,123.54 112.5,123.55 113.25,123.55 113.99,123.56 114.74,123.57 115.49,123.58 116.23,123.58 116.98,123.59 117.73,123.6 118.47,123.61 119.22,123.62 119.97,123.62 120.72,123.63 121.46,123.64 122.21,123.65 122.96,123.65 123.7,123.66 124.45,123.67 125.2,123.68 125.94,123.69 126.69,123.69 127.44,123.7 128.19,123.7 128.93,123.69 129.68,123.66 130.43,123.62 131.17,123.56 131.92,123.5 132.67,123.47 133.41,123.47 134.16,123.51 134.91,123.57 135.66,123.65 136.4,123.71" fill="none" stroke="#ff1010" stroke-width="1.6" stroke-linejoin="round"/>
<polyline points="15.45,117.69 15.7,117.67 15.95,117.65 16.2,117.64 16.45,117.63 16.7,117.63 16.94,117.64 17.19,117.65 17.44,117.67 17.69,117.69 17.94,117.72 18.19,117.75 18.44,117.78 18.69,117.82 18.94,117.86 19.18,117.9 19.43,117.93 19.68,117.97 19.93,118.01 20.18,118.04 20.43,118.07 20.68,118.1 20.93,118.13 21.18,118.14 21.43,118.14 21.67,118.13 21.92,118.08 22.17,118.01 22.42,117.88 22.67,117.7 22.92,117.46 23.17,117.16 23.42,116.81 23.67,116.45 23.92,116.11 24.16,115.83 24.41,115.64 24.66,115.58 24.91,115.64 25.16,115.81 25.41,116.03 25.66,116.19 25.91,116.1 26.16,115.57 26.41,114.52 26.66,113.15 26.9,111.97 27.15,111.54 27.4,112.1 27.65,113.34 27.9,114.54 28.15,115.05 28.4,114.61 28.65,113.48 28.9,112.31 29.14,111.79 29.39,112.25 29.64,113.48 29.89,114.94 30.14,116.16 30.39,116.95 30.64,117.35 30.89,117.54 31.14,117.64 31.39,117.71 31.63,117.79 31.88,117.86 32.13,117.92 32.38,117.97 32.63,118.01 32.88,118.04 33.13,118.06 33.38,118.07 33.63,118.08 33.88,118.09 34.12,118.11 34.37,118.12 34.62,118.13 34.87,118.15 35.12,118.17 35.37,118.18 35.62,118.2 35.87,118.22 36.12,118.24 36.37,118.26 36.61,118.28 36.86,118.29 37.11,118.31 37.36,118.33 37.61,118.35 37.86,118.36 38.11,118.38 38.36,118.39 38.61,118.4 38.86,118.41 39.11,118.42 39.35,118.43 39.6,118.44 39.85,118.45 40.1,118.46 40.35,118.46 41.1,118.48 41.84,118.49 42.59,118.5 43.34,118.51 44.09,118.52 44.83,118.53 45.58,118.53 46.33,118.54 47.07,118.55 47.82,118.56 48.57,118.57 49.31,118.57 50.06,118.58 50.81,118.59 51.55,118.6 52.3,118.6 53.05,118.6 53.8,118.58 54.54,118.54 55.29,118.47 56.04,118.4 56.78,118.34 57.53,118.34 58.28,118.4 59.03,118.48 59.77,118.57 60.52,118.63 61.27,118.67 62.01,118.7 62.76,118.71 63.51,118.72 64.25,118.73 65,118.74 65.75,118.75 66.5,118.75 67.24,118.76 67.99,118.77 68.74,118.78 69.48,118.78 70.23,118.79 70.98,118.8 71.72,118.81 72.47,118.82 73.22,118.82 73.97,118.83 74.71,118.84 75.46,118.85 76.21,118.85 76.95,118.86 77.7,118.87 78.45,118.88 79.19,118.89 79.94,118.89 80.69,118.9 81.44,118.91 82.18,118.92 82.93,118.92 83.68,118.93 84.42,118.94 85.17,118.95 85.92,118.96 86.17,118.96 86.42,118.96 86.66,118.96 86.91,118.97 87.16,118.97 87.41,118.97 87.66,118.97 87.91,118.98 88.16,118.98 88.41,118.98 88.66,118.98 88.91,118.99 89.15,118.99 89.4,118.99 89.65,118.99 89.9,119 90.15,118.99 90.4,118.96 90.65,118.8 90.9,118.39 91.15,117.81 91.39,117.51 91.64,117.81 91.89,118.4 92.14,118.82 92.39,118.98 92.64,119.02 92.89,119.03 93.14,119.03 93.39,119.03 93.64,119.04 93.89,119.04 94.13,119.04 94.38,119.04 94.63,119.05 94.88,119.05 95.13,119.05 95.38,119.05 95.63,119.06 95.88,119.06 96.13,119.06 96.38,119.06 96.62,119.07 96.87,119.07 97.12,119.07 97.37,119.08 97.62,119.08 98.37,119.09 99.11,119.09 99.86,119.1 100.61,119.06 101.36,118.89 102.1,118.75 102.85,118.91 103.6,119.09 104.34,119.14 105.09,119.1 105.84,118.93 106.58,118.79 107.33,118.95 108.08,119.14 108.83,119.19 109.57,119.2 110.32,119.21 111.07,119.22 111.81,119.23 112.56,119.23 113.31,119.24 114.05,119.25 114.8,119.26 115.55,119.27 116.3,119.27 117.04,119.28 117.79,119.29 118.54,119.3 119.28,119.3 120.03,119.31 120.78,119.32 121.52,119.33 122.27,119.34 123.02,119.34 123.77,119.35 124.51,119.36 125.26,119.37 126.01,119.37 126.75,119.38 127.5,119.39 128.25,119.4 128.99,119.41 129.74,119.41 130.49,119.42 131.23,119.42 131.98,119.41 132.73,119.38 133.48,119.34 134.22,119.28 134.97,119.22 135.72,119.19 136.46,119.19 137.21,119.23 137.96,119.29 138.7,119.37 139.45,119.43" fill="none" stroke="#ff3838" stroke-width="1.6" stroke-linejoin="round"/>
<polyline points="18.5,113.41 18.75,113.39 19,113.37 19.25,113.36 19.5,113.35 19.75,113.35 19.99,113.36 20.24,113.37 20.49,113.39 20.74,113.41 20.99,113.44 21.24,113.47 21.49,113.5 21.74,113.54 21.99,113.58 22.23,113.62 22.48,113.65 22.73,113.69 22.98,113.73 23.23,113.76 23.48,113.79 23.73,113.82 23.98,113.84 24.23,113.85 24.48,113.85 24.73,113.82 24.97,113.76 25.22,113.65 25.47,113.49 25.72,113.25 25.97,112.93 26.22,112.53 26.47,112.08 26.72,111.61 26.97,111.16 27.21,110.79 27.46,110.54 27.71,110.45 27.96,110.54 28.21,110.76 28.46,111.05 28.71,111.25 28.96,111.13 29.21,110.44 29.46,109.06 29.7,107.27 29.95,105.73 30.2,105.17 30.45,105.9 30.7,107.51 30.95,109.08 31.2,109.75 31.45,109.18 31.7,107.7 31.95,106.17 32.2,105.49 32.44,106.09 32.69,107.69 32.94,109.6 33.19,111.2 33.44,112.23 33.69,112.76 33.94,113.01 34.19,113.13 34.44,113.23 34.69,113.32 34.93,113.41 35.18,113.49 35.43,113.56 35.68,113.61 35.93,113.64 36.18,113.67 36.43,113.69 36.68,113.7 36.93,113.72 37.17,113.73 37.42,113.75 37.67,113.76 37.92,113.78 38.17,113.81 38.42,113.83 38.67,113.85 38.92,113.87 39.17,113.9 39.42,113.92 39.66,113.95 39.91,113.97 40.16,113.99 40.41,114.01 40.66,114.03 40.91,114.05 41.16,114.07 41.41,114.09 41.66,114.1 41.91,114.12 42.16,114.13 42.4,114.14 42.65,114.15 42.9,114.16 43.15,114.17 43.4,114.18 44.15,114.2 44.89,114.21 45.64,114.22 46.39,114.23 47.14,114.24 47.88,114.25 48.63,114.25 49.38,114.26 50.12,114.27 50.87,114.28 51.62,114.29 52.36,114.29 53.11,114.3 53.86,114.31 54.6,114.32 55.35,114.32 56.1,114.31 56.85,114.29 57.59,114.23 58.34,114.15 59.09,114.06 59.83,114 60.58,113.99 61.33,114.06 62.08,114.16 62.82,114.26 63.57,114.34 64.32,114.39 65.06,114.42 65.81,114.43 66.56,114.44 67.3,114.45 68.05,114.46 68.8,114.47 69.55,114.47 70.29,114.48 71.04,114.49 71.79,114.5 72.53,114.5 73.28,114.51 74.03,114.52 74.77,114.53 75.52,114.54 76.27,114.54 77.02,114.55 77.76,114.56 78.51,114.57 79.26,114.57 80,114.58 80.75,114.59 81.5,114.6 82.24,114.61 82.99,114.61 83.74,114.62 84.48,114.63 85.23,114.64 85.98,114.64 86.73,114.65 87.47,114.66 88.22,114.67 88.97,114.68 89.22,114.68 89.47,114.68 89.71,114.68 89.96,114.69 90.21,114.69 90.46,114.69 90.71,114.69 90.96,114.7 91.21,114.7 91.46,114.7 91.71,114.7 91.95,114.71 92.2,114.71 92.45,114.71 92.7,114.71 92.95,114.72 93.2,114.71 93.45,114.64 93.7,114.32 93.95,113.49 94.2,112.33 94.44,111.73 94.69,112.33 94.94,113.5 95.19,114.33 95.44,114.66 95.69,114.73 95.94,114.75 96.19,114.75 96.44,114.75 96.69,114.76 96.94,114.76 97.18,114.76 97.43,114.76 97.68,114.77 97.93,114.77 98.18,114.77 98.43,114.77 98.68,114.78 98.93,114.78 99.18,114.78 99.42,114.78 99.67,114.79 99.92,114.79 100.17,114.79 100.42,114.8 100.67,114.8 101.42,114.81 102.16,114.81 102.91,114.82 103.66,114.77 104.41,114.57 105.15,114.4 105.9,114.59 106.65,114.8 107.39,114.86 108.14,114.81 108.89,114.6 109.63,114.43 110.38,114.62 111.13,114.84 111.88,114.91 112.62,114.92 113.37,114.93 114.12,114.94 114.86,114.95 115.61,114.95 116.36,114.96 117.1,114.97 117.85,114.98 118.6,114.99 119.34,114.99 120.09,115 120.84,115.01 121.59,115.02 122.33,115.02 123.08,115.03 123.83,115.04 124.57,115.05 125.32,115.06 126.07,115.06 126.81,115.07 127.56,115.08 128.31,115.09 129.06,115.09 129.8,115.1 130.55,115.11 131.3,115.12 132.04,115.13 132.79,115.13 133.54,115.14 134.28,115.14 135.03,115.13 135.78,115.1 136.53,115.06 137.27,115 138.02,114.94 138.77,114.91 139.51,114.91 140.26,114.95 141.01,115.01 141.75,115.09 142.5,115.15" fill="none" stroke="#ff7a30" stroke-width="1.6" stroke-linejoin="round"/>
<polyline points="21.55,109.13 21.8,109.11 22.05,109.09 22.3,109.08 22.55,109.07 22.79,109.07 23.04,109.08 23.29,109.09 23.54,109.11 23.79,109.13 24.04,109.16 24.29,109.19 24.54,109.22 24.79,109.26 25.04,109.3 25.28,109.34 25.53,109.37 25.78,109.41 26.03,109.45 26.28,109.48 26.53,109.51 26.78,109.54 27.03,109.55 27.28,109.56 27.53,109.54 27.77,109.49 28.02,109.39 28.27,109.21 28.52,108.95 28.77,108.58 29.02,108.08 29.27,107.47 29.52,106.78 29.77,106.05 30.02,105.36 30.26,104.79 30.51,104.41 30.76,104.28 31.01,104.4 31.26,104.74 31.51,105.18 31.76,105.49 32.01,105.3 32.26,104.24 32.51,102.14 32.75,99.4 33,97.04 33.25,96.18 33.5,97.3 33.75,99.76 34,102.16 34.25,103.19 34.5,102.31 34.75,100.05 35,97.71 35.24,96.67 35.49,97.58 35.74,100.03 35.99,102.95 36.24,105.39 36.49,106.96 36.74,107.77 36.99,108.15 37.24,108.34 37.49,108.48 37.73,108.62 37.98,108.76 38.23,108.88 38.48,108.98 38.73,109.06 38.98,109.11 39.23,109.15 39.48,109.18 39.73,109.2 39.98,109.22 40.22,109.24 40.47,109.26 40.72,109.29 40.97,109.31 41.22,109.34 41.47,109.38 41.72,109.41 41.97,109.45 42.22,109.48 42.47,109.52 42.71,109.55 42.96,109.59 43.21,109.62 43.46,109.65 43.71,109.68 43.96,109.71 44.21,109.73 44.46,109.76 44.71,109.78 44.96,109.8 45.2,109.82 45.45,109.84 45.7,109.85 45.95,109.86 46.2,109.87 46.45,109.88 47.2,109.91 47.94,109.93 48.69,109.94 49.44,109.95 50.19,109.96 50.93,109.97 51.68,109.97 52.43,109.98 53.17,109.99 53.92,110 54.67,110.01 55.41,110.01 56.16,110.02 56.91,110.03 57.65,110.03 58.4,110.04 59.15,110.03 59.9,110 60.64,109.93 61.39,109.84 62.14,109.73 62.88,109.65 63.63,109.64 64.38,109.72 65.12,109.84 65.87,109.96 66.62,110.05 67.37,110.1 68.11,110.13 68.86,110.15 69.61,110.16 70.35,110.17 71.1,110.18 71.85,110.19 72.59,110.19 73.34,110.2 74.09,110.21 74.84,110.22 75.58,110.22 76.33,110.23 77.08,110.24 77.82,110.25 78.57,110.26 79.32,110.26 80.06,110.27 80.81,110.28 81.56,110.29 82.31,110.29 83.05,110.3 83.8,110.31 84.55,110.32 85.29,110.33 86.04,110.33 86.79,110.34 87.53,110.35 88.28,110.36 89.03,110.36 89.78,110.37 90.52,110.38 91.27,110.39 92.02,110.4 92.27,110.4 92.52,110.4 92.76,110.4 93.01,110.41 93.26,110.41 93.51,110.41 93.76,110.41 94.01,110.42 94.26,110.42 94.51,110.42 94.76,110.42 95,110.43 95.25,110.43 95.5,110.43 95.75,110.43 96,110.44 96.25,110.43 96.5,110.36 96.75,110.07 97,109.3 97.25,108.21 97.49,107.65 97.74,108.21 97.99,109.31 98.24,110.08 98.49,110.38 98.74,110.46 98.99,110.47 99.24,110.47 99.49,110.47 99.74,110.48 99.98,110.48 100.23,110.48 100.48,110.48 100.73,110.49 100.98,110.49 101.23,110.49 101.48,110.49 101.73,110.5 101.98,110.5 102.23,110.5 102.47,110.5 102.72,110.51 102.97,110.51 103.22,110.51 103.47,110.52 103.72,110.52 104.47,110.53 105.21,110.53 105.96,110.54 106.71,110.48 107.45,110.25 108.2,110.05 108.95,110.26 109.7,110.51 110.44,110.58 111.19,110.52 111.94,110.28 112.68,110.07 113.43,110.29 114.18,110.55 114.92,110.63 115.67,110.64 116.42,110.65 117.17,110.66 117.91,110.67 118.66,110.67 119.41,110.68 120.15,110.69 120.9,110.7 121.65,110.71 122.39,110.71 123.14,110.72 123.89,110.73 124.64,110.74 125.38,110.74 126.13,110.75 126.88,110.76 127.62,110.77 128.37,110.78 129.12,110.78 129.87,110.79 130.61,110.8 131.36,110.81 132.11,110.81 132.85,110.82 133.6,110.83 134.35,110.84 135.09,110.85 135.84,110.85 136.59,110.86 137.33,110.86 138.08,110.85 138.83,110.82 139.58,110.78 140.32,110.72 141.07,110.66 141.82,110.63 142.56,110.63 143.31,110.67 144.06,110.73 144.81,110.81 145.55,110.87" fill="none" stroke="#ffa030" stroke-width="1.6" stroke-linejoin="round"/>
<polyline points="24.6,104.85 24.85,104.83 25.1,104.81 25.35,104.8 25.6,104.79 25.85,104.79 26.09,104.8 26.34,104.81 26.59,104.83 26.84,104.85 27.09,104.88 27.34,104.91 27.59,104.94 27.84,104.98 28.09,105.02 28.34,105.06 28.58,105.09 28.83,105.13 29.08,105.17 29.33,105.2 29.58,105.23 29.83,105.26 30.08,105.27 30.33,105.27 30.58,105.24 30.83,105.17 31.07,105.04 31.32,104.83 31.57,104.5 31.82,104.04 32.07,103.43 32.32,102.67 32.57,101.82 32.82,100.92 33.07,100.07 33.31,99.37 33.56,98.9 33.81,98.74 34.06,98.89 34.31,99.31 34.56,99.85 34.81,100.22 35.06,99.99 35.31,98.69 35.56,96.1 35.8,92.73 36.05,89.81 36.3,88.76 36.55,90.14 36.8,93.17 37.05,96.13 37.3,97.38 37.55,96.3 37.8,93.52 38.05,90.63 38.3,89.35 38.54,90.48 38.79,93.49 39.04,97.09 39.29,100.09 39.54,102.02 39.79,103.02 40.04,103.48 40.29,103.71 40.54,103.89 40.78,104.06 41.03,104.23 41.28,104.38 41.53,104.5 41.78,104.6 42.03,104.66 42.28,104.71 42.53,104.74 42.78,104.77 43.03,104.79 43.28,104.82 43.52,104.84 43.77,104.87 44.02,104.91 44.27,104.94 44.52,104.98 44.77,105.03 45.02,105.07 45.27,105.11 45.52,105.15 45.77,105.2 46.01,105.24 46.26,105.28 46.51,105.32 46.76,105.35 47.01,105.39 47.26,105.42 47.51,105.45 47.76,105.47 48.01,105.5 48.26,105.52 48.5,105.54 48.75,105.56 49,105.57 49.25,105.58 49.5,105.6 50.25,105.62 50.99,105.64 51.74,105.66 52.49,105.67 53.23,105.68 53.98,105.69 54.73,105.69 55.48,105.7 56.22,105.71 56.97,105.72 57.72,105.73 58.46,105.73 59.21,105.74 59.96,105.75 60.7,105.75 61.45,105.76 62.2,105.74 62.95,105.71 63.69,105.63 64.44,105.52 65.19,105.39 65.93,105.3 66.68,105.29 67.43,105.38 68.18,105.51 68.92,105.65 69.67,105.76 70.42,105.82 71.16,105.85 71.91,105.87 72.66,105.88 73.4,105.89 74.15,105.9 74.9,105.91 75.65,105.91 76.39,105.92 77.14,105.93 77.89,105.94 78.63,105.94 79.38,105.95 80.13,105.96 80.87,105.97 81.62,105.98 82.37,105.98 83.12,105.99 83.86,106 84.61,106.01 85.36,106.01 86.1,106.02 86.85,106.03 87.6,106.04 88.34,106.05 89.09,106.05 89.84,106.06 90.59,106.07 91.33,106.08 92.08,106.08 92.83,106.09 93.57,106.1 94.32,106.11 95.07,106.12 95.32,106.12 95.56,106.12 95.81,106.12 96.06,106.13 96.31,106.13 96.56,106.13 96.81,106.13 97.06,106.14 97.31,106.14 97.56,106.14 97.81,106.14 98.06,106.15 98.3,106.15 98.55,106.15 98.8,106.15 99.05,106.16 99.3,106.15 99.55,106.11 99.8,105.89 100.05,105.35 100.3,104.57 100.54,104.17 100.79,104.57 101.04,105.36 101.29,105.91 101.54,106.13 101.79,106.18 102.04,106.19 102.29,106.19 102.54,106.19 102.79,106.2 103.03,106.2 103.28,106.2 103.53,106.2 103.78,106.21 104.03,106.21 104.28,106.21 104.53,106.21 104.78,106.22 105.03,106.22 105.28,106.22 105.53,106.22 105.77,106.23 106.02,106.23 106.27,106.23 106.52,106.24 106.77,106.24 107.52,106.25 108.26,106.25 109.01,106.25 109.76,106.19 110.5,105.93 111.25,105.7 112,105.94 112.75,106.22 113.49,106.29 114.24,106.23 114.99,105.95 115.73,105.71 116.48,105.96 117.23,106.26 117.97,106.35 118.72,106.36 119.47,106.37 120.22,106.38 120.96,106.39 121.71,106.39 122.46,106.4 123.2,106.41 123.95,106.42 124.7,106.43 125.44,106.43 126.19,106.44 126.94,106.45 127.69,106.46 128.43,106.46 129.18,106.47 129.93,106.48 130.67,106.49 131.42,106.5 132.17,106.5 132.91,106.51 133.66,106.52 134.41,106.53 135.16,106.53 135.9,106.54 136.65,106.55 137.4,106.56 138.14,106.57 138.89,106.57 139.64,106.58 140.38,106.58 141.13,106.57 141.88,106.54 142.63,106.5 143.37,106.44 144.12,106.38 144.87,106.35 145.61,106.35 146.36,106.39 147.11,106.45 147.85,106.53 148.6,106.59" fill="none" stroke="#ffe000" stroke-width="1.6" stroke-linejoin="round"/>
<polyline points="27.65,100.57 27.9,100.55 28.15,100.53 28.4,100.52 28.65,100.51 28.89,100.51 29.14,100.52 29.39,100.53 29.64,100.55 29.89,100.57 30.14,100.6 30.39,100.63 30.64,100.66 30.89,100.7 31.14,100.74 31.38,100.78 31.63,100.81 31.88,100.85 32.13,100.89 32.38,100.92 32.63,100.95 32.88,100.97 33.13,100.99 33.38,100.98 33.63,100.94 33.88,100.86 34.12,100.71 34.37,100.46 34.62,100.08 34.87,99.54 35.12,98.83 35.37,97.96 35.62,96.97 35.87,95.93 36.12,94.95 36.36,94.13 36.61,93.59 36.86,93.4 37.11,93.58 37.36,94.06 37.61,94.69 37.86,95.12 38.11,94.86 38.36,93.34 38.61,90.35 38.85,86.45 39.1,83.08 39.35,81.87 39.6,83.46 39.85,86.96 40.1,90.38 40.35,91.83 40.6,90.58 40.85,87.36 41.1,84.03 41.34,82.55 41.59,83.84 41.84,87.33 42.09,91.49 42.34,94.96 42.59,97.19 42.84,98.34 43.09,98.88 43.34,99.15 43.59,99.35 43.83,99.55 44.08,99.75 44.33,99.92 44.58,100.06 44.83,100.17 45.08,100.24 45.33,100.29 45.58,100.33 45.83,100.36 46.08,100.39 46.33,100.42 46.57,100.45 46.82,100.48 47.07,100.52 47.32,100.56 47.57,100.61 47.82,100.66 48.07,100.71 48.32,100.75 48.57,100.8 48.81,100.85 49.06,100.9 49.31,100.95 49.56,100.99 49.81,101.03 50.06,101.07 50.31,101.11 50.56,101.14 50.81,101.17 51.06,101.2 51.3,101.22 51.55,101.24 51.8,101.26 52.05,101.28 52.3,101.3 52.55,101.31 53.3,101.34 54.04,101.36 54.79,101.38 55.54,101.39 56.28,101.4 57.03,101.41 57.78,101.41 58.53,101.42 59.27,101.43 60.02,101.44 60.77,101.45 61.51,101.45 62.26,101.46 63.01,101.47 63.75,101.47 64.5,101.47 65.25,101.46 66,101.42 66.74,101.33 67.49,101.2 68.24,101.06 68.98,100.96 69.73,100.95 70.48,101.04 71.22,101.19 71.97,101.35 72.72,101.46 73.47,101.53 74.21,101.57 74.96,101.59 75.71,101.6 76.45,101.61 77.2,101.62 77.95,101.63 78.69,101.63 79.44,101.64 80.19,101.65 80.94,101.66 81.68,101.66 82.43,101.67 83.18,101.68 83.92,101.69 84.67,101.7 85.42,101.7 86.16,101.71 86.91,101.72 87.66,101.73 88.41,101.73 89.15,101.74 89.9,101.75 90.65,101.76 91.39,101.77 92.14,101.77 92.89,101.78 93.63,101.79 94.38,101.8 95.13,101.8 95.88,101.81 96.62,101.82 97.37,101.83 98.12,101.84 98.37,101.84 98.62,101.84 98.86,101.84 99.11,101.85 99.36,101.85 99.61,101.85 99.86,101.85 100.11,101.86 100.36,101.86 100.61,101.86 100.86,101.86 101.1,101.87 101.35,101.87 101.6,101.87 101.85,101.87 102.1,101.88 102.35,101.87 102.6,101.78 102.85,101.41 103.1,100.45 103.35,99.09 103.59,98.39 103.84,99.09 104.09,100.46 104.34,101.43 104.59,101.8 104.84,101.89 105.09,101.91 105.34,101.91 105.59,101.91 105.84,101.92 106.09,101.92 106.33,101.92 106.58,101.92 106.83,101.93 107.08,101.93 107.33,101.93 107.58,101.93 107.83,101.94 108.08,101.94 108.33,101.94 108.57,101.94 108.82,101.95 109.07,101.95 109.32,101.95 109.57,101.96 109.82,101.96 110.57,101.97 111.31,101.97 112.06,101.97 112.81,101.9 113.56,101.6 114.3,101.35 115.05,101.62 115.8,101.93 116.54,102.01 117.29,101.94 118.04,101.62 118.78,101.35 119.53,101.63 120.28,101.97 121.03,102.07 121.77,102.08 122.52,102.09 123.27,102.1 124.01,102.11 124.76,102.11 125.51,102.12 126.25,102.13 127,102.14 127.75,102.15 128.5,102.15 129.24,102.16 129.99,102.17 130.74,102.18 131.48,102.18 132.23,102.19 132.98,102.2 133.72,102.21 134.47,102.22 135.22,102.22 135.97,102.23 136.71,102.24 137.46,102.25 138.21,102.25 138.95,102.26 139.7,102.27 140.45,102.28 141.19,102.29 141.94,102.29 142.69,102.3 143.44,102.3 144.18,102.29 144.93,102.26 145.68,102.22 146.42,102.16 147.17,102.1 147.92,102.07 148.66,102.07 149.41,102.11 150.16,102.17 150.91,102.25 151.65,102.31" fill="none" stroke="#c8e000" stroke-width="1.6" stroke-linejoin="round"/>
<polyline points="30.7,96.29 30.95,96.27 31.2,96.25 31.45,96.24 31.7,96.23 31.94,96.23 32.19,96.24 32.44,96.25 32.69,96.27 32.94,96.29 33.19,96.32 33.44,96.35 33.69,96.38 33.94,96.42 34.19,96.46 34.43,96.5 34.68,96.53 34.93,96.57 35.18,96.61 35.43,96.64 35.68,96.67 35.93,96.69 36.18,96.7 36.43,96.69 36.68,96.64 36.92,96.54 37.17,96.35 37.42,96.05 37.67,95.6 37.92,94.96 38.17,94.11 38.42,93.08 38.67,91.9 38.92,90.66 39.17,89.49 39.41,88.52 39.66,87.88 39.91,87.65 40.16,87.86 40.41,88.43 40.66,89.17 40.91,89.69 41.16,89.37 41.41,87.57 41.66,84.02 41.9,79.38 42.15,75.37 42.4,73.93 42.65,75.82 42.9,79.98 43.15,84.05 43.4,85.78 43.65,84.28 43.9,80.45 44.15,76.49 44.39,74.73 44.64,76.27 44.89,80.42 45.14,85.36 45.39,89.49 45.64,92.14 45.89,93.51 46.14,94.14 46.39,94.47 46.64,94.71 46.88,94.95 47.13,95.18 47.38,95.38 47.63,95.55 47.88,95.68 48.13,95.77 48.38,95.83 48.63,95.87 48.88,95.91 49.13,95.94 49.38,95.97 49.62,96.01 49.87,96.05 50.12,96.09 50.37,96.14 50.62,96.2 50.87,96.25 51.12,96.31 51.37,96.37 51.62,96.43 51.86,96.48 52.11,96.54 52.36,96.59 52.61,96.65 52.86,96.69 53.11,96.74 53.36,96.78 53.61,96.82 53.86,96.86 54.11,96.89 54.35,96.92 54.6,96.94 54.85,96.97 55.1,96.99 55.35,97.01 55.6,97.02 56.35,97.06 57.09,97.08 57.84,97.1 58.59,97.11 59.33,97.12 60.08,97.13 60.83,97.13 61.58,97.14 62.32,97.15 63.07,97.16 63.82,97.17 64.56,97.17 65.31,97.18 66.06,97.19 66.8,97.19 67.55,97.19 68.3,97.18 69.05,97.13 69.79,97.03 70.54,96.89 71.29,96.72 72.03,96.61 72.78,96.6 73.53,96.7 74.28,96.87 75.02,97.04 75.77,97.17 76.52,97.25 77.26,97.29 78.01,97.31 78.76,97.32 79.5,97.33 80.25,97.34 81,97.35 81.75,97.35 82.49,97.36 83.24,97.37 83.99,97.38 84.73,97.38 85.48,97.39 86.23,97.4 86.97,97.41 87.72,97.42 88.47,97.42 89.22,97.43 89.96,97.44 90.71,97.45 91.46,97.45 92.2,97.46 92.95,97.47 93.7,97.48 94.44,97.49 95.19,97.49 95.94,97.5 96.69,97.51 97.43,97.52 98.18,97.52 98.93,97.53 99.67,97.54 100.42,97.55 101.17,97.56 101.42,97.56 101.66,97.56 101.91,97.56 102.16,97.57 102.41,97.57 102.66,97.57 102.91,97.57 103.16,97.58 103.41,97.58 103.66,97.58 103.91,97.58 104.16,97.59 104.4,97.59 104.65,97.59 104.9,97.59 105.15,97.6 105.4,97.58 105.65,97.49 105.9,97.06 106.15,95.96 106.4,94.41 106.64,93.61 106.89,94.41 107.14,95.97 107.39,97.08 107.64,97.51 107.89,97.61 108.14,97.63 108.39,97.63 108.64,97.63 108.89,97.64 109.13,97.64 109.38,97.64 109.63,97.64 109.88,97.65 110.13,97.65 110.38,97.65 110.63,97.65 110.88,97.66 111.13,97.66 111.38,97.66 111.62,97.66 111.87,97.67 112.12,97.67 112.37,97.67 112.62,97.68 112.87,97.68 113.62,97.69 114.36,97.69 115.11,97.69 115.86,97.61 116.6,97.28 117.35,97 118.1,97.3 118.85,97.64 119.59,97.73 120.34,97.65 121.09,97.29 121.83,96.99 122.58,97.31 123.33,97.68 124.07,97.79 124.82,97.8 125.57,97.81 126.32,97.82 127.06,97.83 127.81,97.83 128.56,97.84 129.3,97.85 130.05,97.86 130.8,97.87 131.54,97.87 132.29,97.88 133.04,97.89 133.79,97.9 134.53,97.9 135.28,97.91 136.03,97.92 136.77,97.93 137.52,97.94 138.27,97.94 139.01,97.95 139.76,97.96 140.51,97.97 141.26,97.97 142,97.98 142.75,97.99 143.5,98 144.24,98.01 144.99,98.01 145.74,98.02 146.48,98.02 147.23,98.01 147.98,97.98 148.73,97.94 149.47,97.88 150.22,97.82 150.97,97.79 151.71,97.79 152.46,97.83 153.21,97.89 153.95,97.97 154.7,98.03" fill="none" stroke="#8cdc00" stroke-width="1.6" stroke-linejoin="round"/>
<polyline points="33.75,92.01 34,91.99 34.25,91.97 34.5,91.96 34.75,91.95 34.99,91.95 35.24,91.96 35.49,91.97 35.74,91.99 35.99,92.01 36.24,92.04 36.49,92.07 36.74,92.1 36.99,92.14 37.24,92.18 37.48,92.21 37.73,92.25 37.98,92.29 38.23,92.33 38.48,92.36 38.73,92.39 38.98,92.41 39.23,92.41 39.48,92.4 39.73,92.34 39.98,92.22 40.22,92.01 40.47,91.67 40.72,91.15 40.97,90.42 41.22,89.46 41.47,88.28 41.72,86.94 41.97,85.53 42.22,84.2 42.47,83.1 42.71,82.37 42.96,82.11 43.21,82.34 43.46,82.99 43.71,83.84 43.96,84.42 44.21,84.06 44.46,82.02 44.71,77.98 44.95,72.7 45.2,68.15 45.45,66.51 45.7,68.66 45.95,73.39 46.2,78.01 46.45,79.97 46.7,78.28 46.95,73.92 47.2,69.42 47.45,67.42 47.69,69.17 47.94,73.88 48.19,79.5 48.44,84.19 48.69,87.2 48.94,88.76 49.19,89.48 49.44,89.85 49.69,90.12 49.94,90.39 50.18,90.65 50.43,90.88 50.68,91.07 50.93,91.22 51.18,91.32 51.43,91.39 51.68,91.44 51.93,91.47 52.18,91.51 52.42,91.55 52.67,91.59 52.92,91.64 53.17,91.69 53.42,91.74 53.67,91.8 53.92,91.87 54.17,91.93 54.42,92 54.67,92.06 54.91,92.13 55.16,92.19 55.41,92.25 55.66,92.31 55.91,92.37 56.16,92.42 56.41,92.46 56.66,92.51 56.91,92.55 57.16,92.59 57.41,92.62 57.65,92.65 57.9,92.67 58.15,92.7 58.4,92.72 58.65,92.73 59.4,92.77 60.14,92.8 60.89,92.82 61.64,92.83 62.39,92.84 63.13,92.85 63.88,92.85 64.63,92.86 65.37,92.87 66.12,92.88 66.87,92.89 67.61,92.89 68.36,92.9 69.11,92.91 69.85,92.91 70.6,92.91 71.35,92.89 72.1,92.84 72.84,92.73 73.59,92.57 74.34,92.39 75.08,92.26 75.83,92.25 76.58,92.36 77.33,92.55 78.07,92.74 78.82,92.88 79.57,92.96 80.31,93.01 81.06,93.03 81.81,93.04 82.55,93.05 83.3,93.06 84.05,93.07 84.8,93.07 85.54,93.08 86.29,93.09 87.04,93.1 87.78,93.1 88.53,93.11 89.28,93.12 90.02,93.13 90.77,93.14 91.52,93.14 92.27,93.15 93.01,93.16 93.76,93.17 94.51,93.17 95.25,93.18 96,93.19 96.75,93.2 97.49,93.21 98.24,93.21 98.99,93.22 99.73,93.23 100.48,93.24 101.23,93.24 101.98,93.25 102.72,93.26 103.47,93.27 104.22,93.28 104.47,93.28 104.72,93.28 104.96,93.28 105.21,93.29 105.46,93.29 105.71,93.29 105.96,93.29 106.21,93.3 106.46,93.3 106.71,93.3 106.96,93.3 107.2,93.31 107.45,93.31 107.7,93.31 107.95,93.31 108.2,93.32 108.45,93.3 108.7,93.16 108.95,92.55 109.2,90.98 109.45,88.77 109.69,87.63 109.94,88.77 110.19,90.99 110.44,92.57 110.69,93.18 110.94,93.32 111.19,93.35 111.44,93.35 111.69,93.35 111.94,93.36 112.19,93.36 112.43,93.36 112.68,93.36 112.93,93.37 113.18,93.37 113.43,93.37 113.68,93.37 113.93,93.38 114.18,93.38 114.43,93.38 114.67,93.38 114.92,93.39 115.17,93.39 115.42,93.39 115.67,93.4 115.92,93.4 116.67,93.41 117.41,93.41 118.16,93.41 118.91,93.32 119.66,92.96 120.4,92.65 121.15,92.97 121.9,93.35 122.64,93.45 123.39,93.36 124.14,92.96 124.88,92.63 125.63,92.98 126.38,93.39 127.12,93.51 127.87,93.52 128.62,93.53 129.37,93.54 130.11,93.55 130.86,93.55 131.61,93.56 132.35,93.57 133.1,93.58 133.85,93.59 134.59,93.59 135.34,93.6 136.09,93.61 136.84,93.62 137.58,93.62 138.33,93.63 139.08,93.64 139.82,93.65 140.57,93.66 141.32,93.66 142.06,93.67 142.81,93.68 143.56,93.69 144.31,93.69 145.05,93.7 145.8,93.71 146.55,93.72 147.29,93.73 148.04,93.73 148.79,93.74 149.53,93.74 150.28,93.73 151.03,93.7 151.78,93.66 152.52,93.6 153.27,93.54 154.02,93.51 154.76,93.51 155.51,93.55 156.26,93.61 157,93.69 157.75,93.75" fill="none" stroke="#50d820" stroke-width="1.6" stroke-linejoin="round"/>
<polyline points="36.8,87.73 37.05,87.71 37.3,87.69 37.55,87.68 37.8,87.67 38.04,87.67 38.29,87.68 38.54,87.69 38.79,87.71 39.04,87.73 39.29,87.76 39.54,87.79 39.79,87.82 40.04,87.86 40.29,87.9 40.53,87.93 40.78,87.97 41.03,88.01 41.28,88.05 41.53,88.08 41.78,88.11 42.03,88.13 42.28,88.13 42.53,88.1 42.78,88.04 43.02,87.89 43.27,87.65 43.52,87.24 43.77,86.64 44.02,85.79 44.27,84.67 44.52,83.31 44.77,81.75 45.02,80.12 45.27,78.57 45.52,77.29 45.76,76.44 46.01,76.14 46.26,76.41 46.51,77.17 46.76,78.15 47.01,78.82 47.26,78.41 47.51,76.04 47.76,71.35 48,65.23 48.25,59.95 48.5,58.04 48.75,60.54 49,66.03 49.25,71.38 49.5,73.66 49.75,71.69 50,66.64 50.25,61.42 50.49,59.1 50.74,61.13 50.99,66.59 51.24,73.11 51.49,78.54 51.74,82.04 51.99,83.85 52.24,84.68 52.49,85.11 52.74,85.43 52.98,85.74 53.23,86.04 53.48,86.31 53.73,86.53 53.98,86.7 54.23,86.81 54.48,86.89 54.73,86.95 54.98,86.99 55.23,87.04 55.47,87.08 55.72,87.13 55.97,87.18 56.22,87.24 56.47,87.3 56.72,87.37 56.97,87.45 57.22,87.52 57.47,87.6 57.72,87.67 57.96,87.75 58.21,87.82 58.46,87.89 58.71,87.96 58.96,88.02 59.21,88.08 59.46,88.14 59.71,88.19 59.96,88.23 60.21,88.27 60.45,88.31 60.7,88.34 60.95,88.37 61.2,88.4 61.45,88.42 61.7,88.44 62.45,88.49 63.19,88.51 63.94,88.53 64.69,88.55 65.44,88.56 66.18,88.57 66.93,88.57 67.68,88.58 68.42,88.59 69.17,88.6 69.92,88.61 70.66,88.61 71.41,88.62 72.16,88.63 72.91,88.63 73.65,88.63 74.4,88.61 75.15,88.55 75.89,88.43 76.64,88.25 77.39,88.06 78.13,87.91 78.88,87.9 79.63,88.02 80.38,88.22 81.12,88.43 81.87,88.59 82.62,88.68 83.36,88.73 84.11,88.75 84.86,88.76 85.6,88.77 86.35,88.78 87.1,88.79 87.84,88.79 88.59,88.8 89.34,88.81 90.09,88.82 90.83,88.82 91.58,88.83 92.33,88.84 93.07,88.85 93.82,88.86 94.57,88.86 95.31,88.87 96.06,88.88 96.81,88.89 97.56,88.89 98.3,88.9 99.05,88.91 99.8,88.92 100.54,88.93 101.29,88.93 102.04,88.94 102.78,88.95 103.53,88.96 104.28,88.96 105.03,88.97 105.77,88.98 106.52,88.99 107.27,89 107.52,89 107.77,89 108.01,89 108.26,89.01 108.51,89.01 108.76,89.01 109.01,89.01 109.26,89.02 109.51,89.02 109.76,89.02 110.01,89.02 110.25,89.03 110.5,89.03 110.75,89.03 111,89.03 111.25,89.03 111.5,89.01 111.75,88.83 112,88.04 112.25,86.01 112.5,83.12 112.74,81.65 112.99,83.13 113.24,86.02 113.49,88.06 113.74,88.85 113.99,89.04 114.24,89.07 114.49,89.07 114.74,89.07 114.99,89.08 115.23,89.08 115.48,89.08 115.73,89.08 115.98,89.09 116.23,89.09 116.48,89.09 116.73,89.09 116.98,89.1 117.23,89.1 117.48,89.1 117.72,89.1 117.97,89.11 118.22,89.11 118.47,89.11 118.72,89.12 118.97,89.12 119.72,89.13 120.46,89.13 121.21,89.13 121.96,89.03 122.7,88.64 123.45,88.3 124.2,88.65 124.95,89.06 125.69,89.17 126.44,89.07 127.19,88.63 127.93,88.27 128.68,88.65 129.43,89.1 130.18,89.22 130.92,89.24 131.67,89.25 132.42,89.26 133.16,89.27 133.91,89.27 134.66,89.28 135.4,89.29 136.15,89.3 136.9,89.31 137.64,89.31 138.39,89.32 139.14,89.33 139.89,89.34 140.63,89.34 141.38,89.35 142.13,89.36 142.87,89.37 143.62,89.38 144.37,89.38 145.12,89.39 145.86,89.4 146.61,89.41 147.36,89.41 148.1,89.42 148.85,89.43 149.6,89.44 150.34,89.45 151.09,89.45 151.84,89.46 152.58,89.46 153.33,89.45 154.08,89.42 154.83,89.38 155.57,89.32 156.32,89.26 157.07,89.23 157.81,89.23 158.56,89.27 159.31,89.33 160.06,89.41 160.8,89.47" fill="none" stroke="#22d844" stroke-width="1.6" stroke-linejoin="round"/>
<polyline points="39.85,83.45 40.1,83.43 40.35,83.41 40.6,83.4 40.85,83.39 41.09,83.39 41.34,83.4 41.59,83.41 41.84,83.43 42.09,83.45 42.34,83.48 42.59,83.51 42.84,83.54 43.09,83.58 43.34,83.62 43.59,83.65 43.83,83.69 44.08,83.73 44.33,83.77 44.58,83.8 44.83,83.83 45.08,83.84 45.33,83.84 45.58,83.81 45.83,83.74 46.08,83.58 46.32,83.3 46.57,82.86 46.82,82.19 47.07,81.25 47.32,80.02 47.57,78.51 47.82,76.79 48.07,74.99 48.32,73.28 48.56,71.87 48.81,70.93 49.06,70.6 49.31,70.9 49.56,71.73 49.81,72.81 50.06,73.56 50.31,73.1 50.56,70.48 50.81,65.31 51.05,58.56 51.3,52.73 51.55,50.62 51.8,53.38 52.05,59.43 52.3,65.34 52.55,67.86 52.8,65.68 53.05,60.11 53.3,54.35 53.55,51.79 53.79,54.03 54.04,60.05 54.29,67.24 54.54,73.24 54.79,77.1 55.04,79.1 55.29,80.02 55.54,80.48 55.79,80.84 56.03,81.18 56.28,81.51 56.53,81.81 56.78,82.05 57.03,82.24 57.28,82.36 57.53,82.45 57.78,82.51 58.03,82.56 58.28,82.61 58.53,82.66 58.77,82.71 59.02,82.77 59.27,82.83 59.52,82.9 59.77,82.98 60.02,83.06 60.27,83.14 60.52,83.23 60.77,83.31 61.02,83.39 61.26,83.47 61.51,83.55 61.76,83.62 62.01,83.69 62.26,83.76 62.51,83.82 62.76,83.87 63.01,83.92 63.26,83.97 63.51,84.01 63.75,84.05 64,84.08 64.25,84.11 64.5,84.13 64.75,84.15 65.5,84.2 66.24,84.23 66.99,84.25 67.74,84.27 68.48,84.28 69.23,84.29 69.98,84.29 70.73,84.3 71.47,84.31 72.22,84.32 72.97,84.33 73.71,84.33 74.46,84.34 75.21,84.35 75.95,84.35 76.7,84.35 77.45,84.33 78.2,84.26 78.94,84.13 79.69,83.94 80.44,83.72 81.18,83.57 81.93,83.55 82.68,83.68 83.43,83.9 84.17,84.13 84.92,84.29 85.67,84.39 86.41,84.44 87.16,84.47 87.91,84.48 88.65,84.49 89.4,84.5 90.15,84.51 90.9,84.51 91.64,84.52 92.39,84.53 93.14,84.54 93.88,84.54 94.63,84.55 95.38,84.56 96.12,84.57 96.87,84.58 97.62,84.58 98.37,84.59 99.11,84.6 99.86,84.61 100.61,84.61 101.35,84.62 102.1,84.63 102.85,84.64 103.59,84.65 104.34,84.65 105.09,84.66 105.84,84.67 106.58,84.68 107.33,84.68 108.08,84.69 108.82,84.7 109.57,84.71 110.32,84.72 110.57,84.72 110.81,84.72 111.06,84.72 111.31,84.73 111.56,84.73 111.81,84.73 112.06,84.73 112.31,84.74 112.56,84.74 112.81,84.74 113.06,84.74 113.31,84.75 113.55,84.75 113.8,84.75 114.05,84.75 114.3,84.75 114.55,84.73 114.8,84.55 115.05,83.75 115.3,81.68 115.55,78.76 115.79,77.27 116.04,78.77 116.29,81.69 116.54,83.77 116.79,84.57 117.04,84.76 117.29,84.79 117.54,84.79 117.79,84.79 118.04,84.8 118.28,84.8 118.53,84.8 118.78,84.8 119.03,84.81 119.28,84.81 119.53,84.81 119.78,84.81 120.03,84.82 120.28,84.82 120.53,84.82 120.78,84.82 121.02,84.83 121.27,84.83 121.52,84.83 121.77,84.84 122.02,84.84 122.77,84.85 123.51,84.85 124.26,84.85 125.01,84.74 125.75,84.31 126.5,83.95 127.25,84.33 128,84.77 128.74,84.89 129.49,84.78 130.24,84.31 130.98,83.91 131.73,84.32 132.48,84.81 133.22,84.94 133.97,84.96 134.72,84.97 135.47,84.98 136.21,84.99 136.96,84.99 137.71,85 138.45,85.01 139.2,85.02 139.95,85.03 140.69,85.03 141.44,85.04 142.19,85.05 142.94,85.06 143.68,85.06 144.43,85.07 145.18,85.08 145.92,85.09 146.67,85.1 147.42,85.1 148.16,85.11 148.91,85.12 149.66,85.13 150.41,85.13 151.15,85.14 151.9,85.15 152.65,85.16 153.39,85.17 154.14,85.17 154.89,85.18 155.63,85.18 156.38,85.17 157.13,85.14 157.88,85.1 158.62,85.04 159.37,84.98 160.12,84.95 160.86,84.95 161.61,84.99 162.36,85.05 163.1,85.13 163.85,85.19" fill="none" stroke="#22c8e8" stroke-width="1.6" stroke-linejoin="round"/>
<polyline points="42.9,79.17 43.15,79.15 43.4,79.13 43.65,79.12 43.9,79.11 44.14,79.11 44.39,79.12 44.64,79.13 44.89,79.15 45.14,79.17 45.39,79.2 45.64,79.23 45.89,79.26 46.14,79.3 46.39,79.34 46.63,79.37 46.88,79.41 47.13,79.45 47.38,79.49 47.63,79.52 47.88,79.55 48.13,79.56 48.38,79.56 48.63,79.52 48.88,79.43 49.12,79.26 49.37,78.95 49.62,78.45 49.87,77.71 50.12,76.67 50.37,75.3 50.62,73.62 50.87,71.72 51.12,69.72 51.37,67.83 51.61,66.26 51.86,65.22 52.11,64.84 52.36,65.18 52.61,66.1 52.86,67.3 53.11,68.12 53.36,67.62 53.61,64.71 53.86,58.97 54.1,51.48 54.35,45.02 54.6,42.68 54.85,45.74 55.1,52.46 55.35,59.01 55.6,61.8 55.85,59.39 56.1,53.21 56.35,46.81 56.59,43.97 56.84,46.45 57.09,53.14 57.34,61.12 57.59,67.77 57.84,72.05 58.09,74.27 58.34,75.28 58.59,75.8 58.84,76.2 59.08,76.57 59.33,76.94 59.58,77.27 59.83,77.54 60.08,77.74 60.33,77.89 60.58,77.98 60.83,78.05 61.08,78.11 61.33,78.16 61.58,78.21 61.82,78.27 62.07,78.33 62.32,78.41 62.57,78.48 62.82,78.57 63.07,78.66 63.32,78.75 63.57,78.84 63.82,78.93 64.06,79.02 64.31,79.11 64.56,79.2 64.81,79.28 65.06,79.36 65.31,79.43 65.56,79.49 65.81,79.56 66.06,79.61 66.31,79.66 66.56,79.71 66.8,79.75 67.05,79.78 67.3,79.81 67.55,79.84 67.8,79.86 68.55,79.92 69.29,79.95 70.04,79.97 70.79,79.99 71.53,80 72.28,80.01 73.03,80.01 73.78,80.02 74.52,80.03 75.27,80.04 76.02,80.05 76.76,80.05 77.51,80.06 78.26,80.07 79,80.07 79.75,80.07 80.5,80.04 81.25,79.97 81.99,79.83 82.74,79.62 83.49,79.39 84.23,79.22 84.98,79.2 85.73,79.34 86.47,79.58 87.22,79.82 87.97,80 88.72,80.11 89.46,80.16 90.21,80.19 90.96,80.2 91.7,80.21 92.45,80.22 93.2,80.23 93.94,80.23 94.69,80.24 95.44,80.25 96.19,80.26 96.93,80.26 97.68,80.27 98.43,80.28 99.17,80.29 99.92,80.3 100.67,80.3 101.41,80.31 102.16,80.32 102.91,80.33 103.66,80.33 104.4,80.34 105.15,80.35 105.9,80.36 106.64,80.37 107.39,80.37 108.14,80.38 108.88,80.39 109.63,80.4 110.38,80.4 111.13,80.41 111.87,80.42 112.62,80.43 113.37,80.44 113.62,80.44 113.87,80.44 114.11,80.44 114.36,80.45 114.61,80.45 114.86,80.45 115.11,80.45 115.36,80.46 115.61,80.46 115.86,80.46 116.11,80.46 116.35,80.47 116.6,80.47 116.85,80.47 117.1,80.47 117.35,80.47 117.6,80.45 117.85,80.23 118.1,79.31 118.35,76.91 118.6,73.52 118.84,71.79 119.09,73.53 119.34,76.92 119.59,79.32 119.84,80.25 120.09,80.47 120.34,80.51 120.59,80.51 120.84,80.51 121.09,80.52 121.34,80.52 121.58,80.52 121.83,80.52 122.08,80.53 122.33,80.53 122.58,80.53 122.83,80.53 123.08,80.54 123.33,80.54 123.58,80.54 123.82,80.54 124.07,80.55 124.32,80.55 124.57,80.55 124.82,80.56 125.07,80.56 125.82,80.57 126.56,80.57 127.31,80.57 128.06,80.45 128.81,79.99 129.55,79.6 130.3,80.01 131.05,80.48 131.79,80.6 132.54,80.49 133.29,79.98 134.03,79.55 134.78,79.99 135.53,80.52 136.28,80.66 137.02,80.68 137.77,80.69 138.52,80.7 139.26,80.71 140.01,80.71 140.76,80.72 141.5,80.73 142.25,80.74 143,80.75 143.75,80.75 144.49,80.76 145.24,80.77 145.99,80.78 146.73,80.78 147.48,80.79 148.23,80.8 148.97,80.81 149.72,80.82 150.47,80.82 151.22,80.83 151.96,80.84 152.71,80.85 153.46,80.85 154.2,80.86 154.95,80.87 155.7,80.88 156.44,80.89 157.19,80.89 157.94,80.9 158.69,80.9 159.43,80.89 160.18,80.86 160.93,80.82 161.67,80.76 162.42,80.7 163.17,80.67 163.91,80.67 164.66,80.71 165.41,80.77 166.16,80.85 166.9,80.91" fill="none" stroke="#3aa0ff" stroke-width="1.6" stroke-linejoin="round"/>
<polyline points="45.95,74.89 46.2,74.87 46.45,74.85 46.7,74.84 46.95,74.83 47.19,74.83 47.44,74.84 47.69,74.85 47.94,74.87 48.19,74.89 48.44,74.92 48.69,74.95 48.94,74.98 49.19,75.02 49.44,75.06 49.68,75.09 49.93,75.13 50.18,75.17 50.43,75.21 50.68,75.24 50.93,75.26 51.18,75.28 51.43,75.27 51.68,75.23 51.93,75.13 52.17,74.93 52.42,74.58 52.67,74.03 52.92,73.2 53.17,72.04 53.42,70.52 53.67,68.65 53.92,66.53 54.17,64.31 54.42,62.2 54.66,60.45 54.91,59.29 55.16,58.88 55.41,59.25 55.66,60.28 55.91,61.61 56.16,62.53 56.41,61.96 56.66,58.73 56.91,52.34 57.15,44.01 57.4,36.82 57.65,34.22 57.9,37.62 58.15,45.09 58.4,52.38 58.65,55.49 58.9,52.81 59.15,45.93 59.4,38.81 59.64,35.65 59.89,38.41 60.14,45.85 60.39,54.72 60.64,62.13 60.89,66.89 61.14,69.36 61.39,70.49 61.64,71.07 61.89,71.5 62.13,71.92 62.38,72.33 62.63,72.7 62.88,73 63.13,73.22 63.38,73.38 63.63,73.49 63.88,73.57 64.13,73.63 64.38,73.68 64.62,73.74 64.87,73.8 65.12,73.88 65.37,73.96 65.62,74.04 65.87,74.14 66.12,74.23 66.37,74.34 66.62,74.44 66.87,74.54 67.11,74.64 67.36,74.74 67.61,74.83 67.86,74.92 68.11,75.01 68.36,75.09 68.61,75.16 68.86,75.23 69.11,75.29 69.36,75.35 69.6,75.4 69.85,75.44 70.1,75.48 70.35,75.52 70.6,75.55 70.85,75.57 71.6,75.63 72.34,75.67 73.09,75.69 73.84,75.71 74.58,75.72 75.33,75.73 76.08,75.73 76.83,75.74 77.57,75.75 78.32,75.76 79.07,75.77 79.81,75.77 80.56,75.78 81.31,75.79 82.05,75.79 82.8,75.79 83.55,75.76 84.3,75.68 85.04,75.53 85.79,75.31 86.54,75.05 87.28,74.87 88.03,74.85 88.78,75 89.53,75.26 90.27,75.52 91.02,75.71 91.77,75.82 92.51,75.88 93.26,75.91 94.01,75.92 94.75,75.93 95.5,75.94 96.25,75.95 97,75.95 97.74,75.96 98.49,75.97 99.24,75.98 99.98,75.98 100.73,75.99 101.48,76 102.22,76.01 102.97,76.02 103.72,76.02 104.47,76.03 105.21,76.04 105.96,76.05 106.71,76.05 107.45,76.06 108.2,76.07 108.95,76.08 109.69,76.09 110.44,76.09 111.19,76.1 111.94,76.11 112.68,76.12 113.43,76.12 114.18,76.13 114.92,76.14 115.67,76.15 116.42,76.16 116.67,76.16 116.91,76.16 117.16,76.16 117.41,76.17 117.66,76.17 117.91,76.17 118.16,76.17 118.41,76.18 118.66,76.18 118.91,76.18 119.16,76.18 119.41,76.19 119.65,76.19 119.9,76.19 120.15,76.19 120.4,76.19 120.65,76.16 120.9,75.92 121.15,74.85 121.4,72.1 121.65,68.2 121.89,66.21 122.14,68.21 122.39,72.11 122.64,74.87 122.89,75.94 123.14,76.19 123.39,76.23 123.64,76.23 123.89,76.23 124.14,76.24 124.38,76.24 124.63,76.24 124.88,76.24 125.13,76.25 125.38,76.25 125.63,76.25 125.88,76.25 126.13,76.26 126.38,76.26 126.63,76.26 126.88,76.26 127.12,76.27 127.37,76.27 127.62,76.27 127.87,76.28 128.12,76.28 128.87,76.29 129.61,76.29 130.36,76.29 131.11,76.16 131.85,75.67 132.6,75.25 133.35,75.68 134.1,76.2 134.84,76.32 135.59,76.2 136.34,75.65 137.08,75.19 137.83,75.66 138.58,76.23 139.32,76.38 140.07,76.4 140.82,76.41 141.57,76.42 142.31,76.43 143.06,76.43 143.81,76.44 144.55,76.45 145.3,76.46 146.05,76.47 146.79,76.47 147.54,76.48 148.29,76.49 149.04,76.5 149.78,76.5 150.53,76.51 151.28,76.52 152.02,76.53 152.77,76.54 153.52,76.54 154.26,76.55 155.01,76.56 155.76,76.57 156.51,76.57 157.25,76.58 158,76.59 158.75,76.6 159.49,76.61 160.24,76.61 160.99,76.62 161.73,76.62 162.48,76.61 163.23,76.58 163.98,76.54 164.72,76.48 165.47,76.42 166.22,76.39 166.96,76.39 167.71,76.43 168.46,76.49 169.2,76.57 169.95,76.63" fill="none" stroke="#3a70ff" stroke-width="1.6" stroke-linejoin="round"/>
<polyline points="49,70.61 49.25,70.59 49.5,70.57 49.75,70.56 50,70.55 50.24,70.55 50.49,70.56 50.74,70.57 50.99,70.59 51.24,70.61 51.49,70.64 51.74,70.67 51.99,70.7 52.24,70.74 52.49,70.78 52.73,70.81 52.98,70.85 53.23,70.89 53.48,70.93 53.73,70.96 53.98,70.98 54.23,70.99 54.48,70.98 54.73,70.94 54.98,70.82 55.22,70.6 55.47,70.22 55.72,69.61 55.97,68.69 56.22,67.41 56.47,65.74 56.72,63.68 56.97,61.34 57.22,58.89 57.47,56.57 57.71,54.65 57.96,53.37 58.21,52.92 58.46,53.32 58.71,54.46 58.96,55.92 59.21,56.93 59.46,56.31 59.71,52.75 59.96,45.72 60.2,36.54 60.45,28.62 60.7,25.75 60.95,29.5 61.2,37.73 61.45,45.76 61.7,49.17 61.95,46.22 62.2,38.65 62.45,30.81 62.69,27.32 62.94,30.37 63.19,38.56 63.44,48.33 63.69,56.49 63.94,61.73 64.19,64.45 64.44,65.69 64.69,66.33 64.94,66.81 65.18,67.27 65.43,67.72 65.68,68.13 65.93,68.46 66.18,68.7 66.43,68.88 66.68,69 66.93,69.08 67.18,69.15 67.43,69.21 67.67,69.27 67.92,69.34 68.17,69.42 68.42,69.51 68.67,69.6 68.92,69.71 69.17,69.81 69.42,69.92 69.67,70.04 69.92,70.15 70.16,70.26 70.41,70.37 70.66,70.47 70.91,70.57 71.16,70.67 71.41,70.75 71.66,70.83 71.91,70.91 72.16,70.98 72.41,71.04 72.66,71.09 72.9,71.14 73.15,71.18 73.4,71.22 73.65,71.25 73.9,71.28 74.65,71.35 75.39,71.38 76.14,71.41 76.89,71.42 77.63,71.44 78.38,71.45 79.13,71.45 79.88,71.46 80.62,71.47 81.37,71.48 82.12,71.49 82.86,71.49 83.61,71.5 84.36,71.51 85.1,71.51 85.85,71.51 86.6,71.48 87.35,71.39 88.09,71.23 88.84,70.99 89.59,70.72 90.33,70.53 91.08,70.5 91.83,70.66 92.57,70.93 93.32,71.21 94.07,71.42 94.82,71.54 95.56,71.6 96.31,71.63 97.06,71.64 97.8,71.65 98.55,71.66 99.3,71.67 100.04,71.67 100.79,71.68 101.54,71.69 102.29,71.7 103.03,71.7 103.78,71.71 104.53,71.72 105.27,71.73 106.02,71.74 106.77,71.74 107.51,71.75 108.26,71.76 109.01,71.77 109.76,71.77 110.5,71.78 111.25,71.79 112,71.8 112.74,71.81 113.49,71.81 114.24,71.82 114.98,71.83 115.73,71.84 116.48,71.84 117.23,71.85 117.97,71.86 118.72,71.87 119.47,71.88 119.72,71.88 119.97,71.88 120.21,71.88 120.46,71.89 120.71,71.89 120.96,71.89 121.21,71.89 121.46,71.9 121.71,71.9 121.96,71.9 122.21,71.9 122.45,71.91 122.7,71.91 122.95,71.91 123.2,71.91 123.45,71.91 123.7,71.88 123.95,71.62 124.2,70.5 124.45,67.61 124.7,63.52 124.94,61.43 125.19,63.53 125.44,67.62 125.69,70.52 125.94,71.64 126.19,71.91 126.44,71.95 126.69,71.95 126.94,71.95 127.19,71.96 127.44,71.96 127.68,71.96 127.93,71.96 128.18,71.97 128.43,71.97 128.68,71.97 128.93,71.97 129.18,71.98 129.43,71.98 129.68,71.98 129.92,71.98 130.17,71.99 130.42,71.99 130.67,71.99 130.92,72 131.17,72 131.92,72.01 132.66,72.01 133.41,72.01 134.16,71.87 134.91,71.35 135.65,70.9 136.4,71.36 137.15,71.91 137.89,72.04 138.64,71.91 139.39,71.32 140.13,70.83 140.88,71.34 141.63,71.94 142.38,72.1 143.12,72.12 143.87,72.13 144.62,72.14 145.36,72.15 146.11,72.15 146.86,72.16 147.6,72.17 148.35,72.18 149.1,72.19 149.84,72.19 150.59,72.2 151.34,72.21 152.09,72.22 152.83,72.22 153.58,72.23 154.33,72.24 155.07,72.25 155.82,72.26 156.57,72.26 157.31,72.27 158.06,72.28 158.81,72.29 159.56,72.29 160.3,72.3 161.05,72.31 161.8,72.32 162.54,72.33 163.29,72.33 164.04,72.34 164.78,72.34 165.53,72.33 166.28,72.3 167.03,72.26 167.77,72.2 168.52,72.14 169.27,72.11 170.01,72.11 170.76,72.15 171.51,72.21 172.25,72.29 173,72.35" fill="none" stroke="#3030e8" stroke-width="1.6" stroke-linejoin="round"/>
<path d="M11 61.5V124L11 124H134.3" fill="none" stroke="#1a1a1a" stroke-width="1.5"/>
<path d="M11 61.5L50.5 8.6" fill="none" stroke="#1a1a1a" stroke-width="1.4"/>
<path d="M50.5 8.6H174.2V69.3" fill="none" stroke="#1a1a1a" stroke-width="1.2"/>
<path d="M134.3 124L174.2 69.3" fill="none" stroke="#1a1a1a" stroke-width="1.3"/>
<path d="M174.2 69.3h2M174.2 61.71h1.2M174.2 54.12h2M174.2 46.54h1.2M174.2 38.95h2M174.2 31.36h1.2M174.2 23.77h2M174.2 16.19h1.2M174.2 8.6h2M11 124v-1.8M23.33 124v-1M35.66 124v-1.8M47.99 124v-1M60.32 124v-1.8M72.65 124v-1M84.98 124v-1.8M97.31 124v-1M109.64 124v-1.8M121.97 124v-1M134.3 124v-1.8" stroke="#1a1a1a" stroke-width="0.8" fill="none"/>
<g font-family="Liberation Sans" font-size="7.4" fill="#333" stroke="#333" stroke-width="0.12"><text transform="translate(175.5,71.8) scale(0.85,1)">0.0</text><text transform="translate(175.5,56.62) scale(0.85,1)">1.0</text><text transform="translate(175.5,41.45) scale(0.85,1)">2.0</text><text transform="translate(175.5,26.27) scale(0.85,1)">3.0</text><text transform="translate(175.5,11.1) scale(0.85,1)">4.0</text></g>
<text transform="translate(190,37.8) rotate(-90) scale(1,0.85)" font-family="Liberation Sans" font-size="9.6" fill="#444" stroke="#444" stroke-width="0.1" text-anchor="middle">Intensity (a.u.)</text>
<g font-family="Liberation Sans" font-size="7.6" fill="#333" stroke="#333" stroke-width="0.12" text-anchor="middle"><text x="10.9" y="131.8">500</text><text x="35.5" y="131.8">600</text><text x="60.1" y="131.8">700</text><text x="84.7" y="131.8">800</text><text x="109.3" y="131.8">900</text><text x="133.9" y="131.8">1000</text></g>
<text x="72.2" y="139.6" font-family="Liberation Sans" font-size="7.2" fill="#333" stroke="#333" stroke-width="0.2" text-anchor="middle">Wavelength (nm)</text>
<g font-family="Liberation Sans" font-size="7.8" fill="#333" stroke="#333" stroke-width="0.12"><text transform="translate(143.5,120.4) skewX(-28) scale(0.95,1)" text-anchor="middle" y="2.8">2.1</text><text transform="translate(150.3,112.4) skewX(-28) scale(0.95,1)" text-anchor="middle" y="2.8">7.2</text><text transform="translate(157.5,104.4) skewX(-28) scale(0.95,1)" text-anchor="middle" y="2.8">12.3</text><text transform="translate(165.3,95.9) skewX(-28) scale(0.95,1)" text-anchor="middle" y="2.8">19.0</text><text transform="translate(171.2,87.8) skewX(-28) scale(0.95,1)" text-anchor="middle" y="2.8">25.5</text><text transform="translate(175.5,79.8) skewX(-28) scale(0.95,1)" text-anchor="middle" y="2.8">32.0</text></g>
<text transform="translate(174.8,97.1) rotate(-54) scale(1,-1) skewX(-10)" font-family="Liberation Sans" font-size="7.6" fill="#333" stroke="#333" stroke-width="0.15" text-anchor="middle" y="2.6">Power (mW)</text>
<text transform="translate(12.6,23.2) scale(0.95,1)" font-family="Liberation Sans" font-size="14" fill="#222">(a)</text>
<text x="88.2" y="28.8" font-family="Liberation Sans" font-size="10.8" fill="#222">Without Arrays</text>
<path d="M197.3 114L236.8 59.3M197.3 104L236.8 49.3M197.3 94L236.8 39.3M197.3 84L236.8 29.3M197.3 74L236.8 19.3" stroke="#c8c8c8" stroke-width="0.7" fill="none"/>
<path d="M236.8 69.3H360.5M236.8 59.3H360.5M236.8 49.3H360.5M236.8 39.3H360.5M236.8 29.3H360.5M236.8 19.3H360.5" stroke="#d0d0d0" stroke-width="0.9" fill="none"/>
<rect x="280.3" y="13.5" width="79.3" height="20.5" fill="#fff"/>
<path d="M236.8 9.3V69.3" stroke="#999" stroke-width="0.8"/>
<path d="M197.3 124L236.8 69.3" stroke="#888" stroke-width="0.8"/>
<polyline points="198.7,122.47 198.95,122.45 199.2,122.43 199.45,122.42 199.7,122.41 199.95,122.41 200.19,122.42 200.44,122.43 200.69,122.45 200.94,122.47 201.19,122.5 201.44,122.53 201.69,122.56 201.94,122.6 202.19,122.64 202.44,122.67 202.68,122.71 202.93,122.75 203.18,122.78 203.43,122.81 203.68,122.83 203.93,122.84 204.18,122.83 204.43,122.81 204.68,122.76 204.93,122.69 205.17,122.59 205.42,122.48 205.67,122.36 205.92,122.24 206.17,122.14 206.42,122.08 206.67,122.06 206.92,122.09 207.17,122.17 207.42,122.27 207.66,122.39 207.91,122.49 208.16,122.54 208.41,122.49 208.66,122.3 208.91,121.98 209.16,121.59 209.41,121.27 209.66,121.15 209.91,121.26 210.15,121.53 210.4,121.79 210.65,121.92 210.9,121.91 211.15,121.87 211.4,121.95 211.65,122.19 211.9,122.49 212.15,122.76 212.4,122.93 212.64,123.02 212.89,123.05 213.14,123.06 213.39,123.06 213.64,123.06 213.89,123.06 214.14,123.06 214.39,123.06 214.64,123.07 214.89,123.07 215.13,123.07 215.38,123.08 215.63,123.08 215.88,123.09 216.13,123.09 216.38,123.1 216.63,123.11 216.88,123.11 217.13,123.12 217.38,123.13 217.62,123.14 217.87,123.14 218.12,123.15 218.37,123.16 218.62,123.17 218.87,123.17 219.12,123.18 219.37,123.19 219.62,123.19 219.87,123.2 220.11,123.2 220.36,123.21 220.61,123.22 220.86,123.22 221.11,123.22 221.36,123.23 221.61,123.23 221.86,123.24 222.11,123.24 222.36,123.24 222.6,123.25 222.85,123.25 223.1,123.25 223.35,123.26 223.6,123.26 224.35,123.27 225.09,123.28 225.84,123.28 226.59,123.29 227.34,123.3 228.08,123.31 228.83,123.31 229.58,123.32 230.32,123.33 231.07,123.34 231.82,123.35 232.56,123.35 233.31,123.36 234.06,123.37 234.81,123.37 235.55,123.36 236.3,123.35 237.05,123.31 237.79,123.27 238.54,123.23 239.29,123.22 240.03,123.25 240.78,123.3 241.53,123.36 242.28,123.41 243.02,123.44 243.77,123.46 244.52,123.48 245.26,123.49 246.01,123.49 246.76,123.5 247.5,123.51 248.25,123.52 249,123.53 249.75,123.53 250.49,123.54 251.24,123.55 251.99,123.56 252.73,123.56 253.48,123.57 254.23,123.58 254.97,123.59 255.72,123.6 256.47,123.6 257.22,123.61 257.96,123.62 258.71,123.63 259.46,123.63 260.2,123.64 260.95,123.65 261.7,123.66 262.44,123.67 263.19,123.67 263.94,123.68 264.69,123.69 265.43,123.7 265.68,123.7 265.93,123.7 266.18,123.7 266.43,123.71 266.68,123.71 266.93,123.71 267.18,123.72 267.42,123.72 267.67,123.72 267.92,123.72 268.17,123.73 268.42,123.73 268.67,123.73 268.92,123.73 269.17,123.74 269.42,123.74 269.67,123.74 269.91,123.74 270.16,123.74 270.41,123.73 270.66,123.68 270.91,123.55 271.16,123.36 271.41,123.26 271.66,123.36 271.91,123.56 272.16,123.7 272.4,123.76 272.65,123.77 272.9,123.77 273.15,123.78 273.4,123.78 273.65,123.78 273.9,123.79 274.15,123.79 274.4,123.79 274.64,123.79 274.89,123.8 275.14,123.8 275.39,123.8 275.64,123.8 275.89,123.81 276.14,123.81 276.39,123.81 276.64,123.81 276.89,123.82 277.13,123.82 277.38,123.82 277.63,123.82 278.38,123.83 279.13,123.84 279.87,123.85 280.62,123.86 281.37,123.86 282.12,123.87 282.86,123.88 283.61,123.89 284.36,123.89 285.1,123.89 285.85,123.86 286.6,123.73 287.34,123.57 288.09,123.55 288.84,123.7 289.59,123.86 290.33,123.94 291.08,123.96 291.83,123.97 292.57,123.98 293.32,123.99 294.07,124 294.81,124 295.56,124.01 296.31,124.02 297.06,124.03 297.8,124.03 298.55,124.04 299.3,124.05 300.04,124.06 300.79,124.07 301.54,124.07 302.28,124.08 303.03,124.09 303.78,124.1 304.53,124.1 305.27,124.11 306.02,124.12 306.77,124.13 307.51,124.14 308.26,124.14 309.01,124.15 309.75,124.16 310.5,124.17 311.25,124.18 312,124.18 312.74,124.19 313.49,124.2 314.24,124.2 314.98,124.19 315.73,124.17 316.48,124.13 317.22,124.08 317.97,124.02 318.72,123.97 319.47,123.96 320.21,123.99 320.96,124.05 321.71,124.13 322.45,124.19 323.2,124.25" fill="none" stroke="#ff1010" stroke-width="1.6" stroke-linejoin="round"/>
<polyline points="201.75,118.11 202,118.09 202.25,118.07 202.5,118.06 202.75,118.06 203,118.06 203.24,118.06 203.49,118.07 203.74,118.09 203.99,118.11 204.24,118.14 204.49,118.17 204.74,118.2 204.99,118.24 205.24,118.28 205.49,118.32 205.73,118.35 205.98,118.39 206.23,118.42 206.48,118.44 206.73,118.46 206.98,118.45 207.23,118.43 207.48,118.38 207.73,118.3 207.98,118.18 208.22,118.03 208.47,117.85 208.72,117.66 208.97,117.48 209.22,117.33 209.47,117.24 209.72,117.21 209.97,117.25 210.22,117.36 210.47,117.51 210.71,117.69 210.96,117.84 211.21,117.91 211.46,117.83 211.71,117.54 211.96,117.06 212.21,116.48 212.46,115.99 212.71,115.81 212.96,115.97 213.2,116.38 213.45,116.77 213.7,116.97 213.95,116.94 214.2,116.89 214.45,117.01 214.7,117.35 214.95,117.81 215.2,118.21 215.45,118.47 215.69,118.6 215.94,118.64 216.19,118.66 216.44,118.66 216.69,118.66 216.94,118.66 217.19,118.66 217.44,118.66 217.69,118.66 217.94,118.66 218.18,118.67 218.43,118.67 218.68,118.68 218.93,118.69 219.18,118.69 219.43,118.7 219.68,118.71 219.93,118.72 220.18,118.73 220.43,118.74 220.67,118.75 220.92,118.76 221.17,118.77 221.42,118.78 221.67,118.79 221.92,118.8 222.17,118.81 222.42,118.82 222.67,118.83 222.92,118.84 223.16,118.84 223.41,118.85 223.66,118.86 223.91,118.86 224.16,118.87 224.41,118.87 224.66,118.88 224.91,118.88 225.16,118.89 225.41,118.89 225.65,118.89 225.9,118.9 226.15,118.9 226.4,118.91 226.65,118.91 227.4,118.92 228.14,118.93 228.89,118.93 229.64,118.94 230.39,118.95 231.13,118.96 231.88,118.97 232.63,118.98 233.37,118.98 234.12,118.99 234.87,119 235.61,119.01 236.36,119.02 237.11,119.02 237.86,119.02 238.6,119.02 239.35,118.99 240.1,118.94 240.84,118.88 241.59,118.83 242.34,118.81 243.08,118.85 243.83,118.91 244.58,118.99 245.33,119.06 246.07,119.1 246.82,119.12 247.57,119.14 248.31,119.15 249.06,119.16 249.81,119.17 250.55,119.18 251.3,119.18 252.05,119.19 252.8,119.2 253.54,119.21 254.29,119.22 255.04,119.23 255.78,119.23 256.53,119.24 257.28,119.25 258.02,119.26 258.77,119.27 259.52,119.28 260.27,119.28 261.01,119.29 261.76,119.3 262.51,119.31 263.25,119.32 264,119.33 264.75,119.33 265.49,119.34 266.24,119.35 266.99,119.36 267.74,119.37 268.48,119.38 268.73,119.38 268.98,119.38 269.23,119.38 269.48,119.39 269.73,119.39 269.98,119.39 270.23,119.4 270.47,119.4 270.72,119.4 270.97,119.4 271.22,119.41 271.47,119.41 271.72,119.41 271.97,119.42 272.22,119.42 272.47,119.42 272.72,119.42 272.96,119.43 273.21,119.43 273.46,119.4 273.71,119.3 273.96,119.03 274.21,118.64 274.46,118.44 274.71,118.64 274.96,119.04 275.21,119.32 275.45,119.43 275.7,119.45 275.95,119.46 276.2,119.46 276.45,119.47 276.7,119.47 276.95,119.47 277.2,119.47 277.45,119.48 277.7,119.48 277.94,119.48 278.19,119.48 278.44,119.49 278.69,119.49 278.94,119.49 279.19,119.5 279.44,119.5 279.69,119.5 279.94,119.5 280.19,119.51 280.43,119.51 280.68,119.51 281.43,119.52 282.18,119.53 282.92,119.54 283.67,119.55 284.42,119.55 285.17,119.56 285.91,119.57 286.66,119.58 287.41,119.59 288.15,119.58 288.9,119.54 289.65,119.38 290.39,119.18 291.14,119.14 291.89,119.33 292.64,119.54 293.38,119.63 294.13,119.66 294.88,119.67 295.62,119.68 296.37,119.69 297.12,119.7 297.86,119.7 298.61,119.71 299.36,119.72 300.11,119.73 300.85,119.74 301.6,119.75 302.35,119.75 303.09,119.76 303.84,119.77 304.59,119.78 305.33,119.79 306.08,119.8 306.83,119.8 307.58,119.81 308.32,119.82 309.07,119.83 309.82,119.84 310.56,119.85 311.31,119.85 312.06,119.86 312.8,119.87 313.55,119.88 314.3,119.89 315.05,119.89 315.79,119.9 316.54,119.91 317.29,119.91 318.03,119.9 318.78,119.88 319.53,119.83 320.27,119.77 321.02,119.71 321.77,119.65 322.52,119.64 323.26,119.67 324.01,119.74 324.76,119.82 325.5,119.9 326.25,119.96" fill="none" stroke="#ff3838" stroke-width="1.6" stroke-linejoin="round"/>
<polyline points="204.8,113.69 205.05,113.67 205.3,113.65 205.55,113.64 205.8,113.64 206.05,113.64 206.29,113.64 206.54,113.65 206.79,113.67 207.04,113.69 207.29,113.72 207.54,113.75 207.79,113.78 208.04,113.82 208.29,113.86 208.54,113.9 208.78,113.93 209.03,113.97 209.28,113.99 209.53,114.01 209.78,114.01 210.03,114 210.28,113.95 210.53,113.86 210.78,113.72 211.03,113.53 211.27,113.3 211.52,113.02 211.77,112.73 212.02,112.46 212.27,112.23 212.52,112.08 212.77,112.03 213.02,112.09 213.27,112.25 213.52,112.48 213.76,112.74 214.01,112.97 214.26,113.07 214.51,112.95 214.76,112.52 215.01,111.79 215.26,110.92 215.51,110.19 215.76,109.91 216.01,110.16 216.25,110.77 216.5,111.36 216.75,111.64 217,111.61 217.25,111.53 217.5,111.7 217.75,112.22 218,112.9 218.25,113.5 218.5,113.89 218.74,114.08 218.99,114.15 219.24,114.17 219.49,114.17 219.74,114.17 219.99,114.16 220.24,114.16 220.49,114.16 220.74,114.17 220.99,114.17 221.23,114.17 221.48,114.18 221.73,114.19 221.98,114.2 222.23,114.21 222.48,114.22 222.73,114.24 222.98,114.25 223.23,114.26 223.48,114.28 223.72,114.29 223.97,114.31 224.22,114.32 224.47,114.33 224.72,114.35 224.97,114.36 225.22,114.37 225.47,114.39 225.72,114.4 225.97,114.41 226.21,114.42 226.46,114.43 226.71,114.43 226.96,114.44 227.21,114.45 227.46,114.46 227.71,114.46 227.96,114.47 228.21,114.47 228.46,114.48 228.7,114.48 228.95,114.49 229.2,114.49 229.45,114.5 229.7,114.5 230.45,114.51 231.19,114.52 231.94,114.53 232.69,114.54 233.44,114.55 234.18,114.56 234.93,114.57 235.68,114.58 236.42,114.59 237.17,114.59 237.92,114.6 238.66,114.61 239.41,114.62 240.16,114.63 240.91,114.63 241.65,114.62 242.4,114.58 243.15,114.52 243.89,114.44 244.64,114.38 245.39,114.36 246.13,114.4 246.88,114.48 247.63,114.58 248.38,114.66 249.12,114.71 249.87,114.74 250.62,114.76 251.36,114.77 252.11,114.78 252.86,114.79 253.6,114.8 254.35,114.81 255.1,114.82 255.85,114.83 256.59,114.84 257.34,114.85 258.09,114.85 258.83,114.86 259.58,114.87 260.33,114.88 261.07,114.89 261.82,114.9 262.57,114.91 263.31,114.92 264.06,114.93 264.81,114.94 265.56,114.95 266.3,114.96 267.05,114.97 267.8,114.98 268.54,114.98 269.29,114.99 270.04,115 270.79,115.01 271.53,115.02 271.78,115.03 272.03,115.03 272.28,115.03 272.53,115.03 272.78,115.04 273.03,115.04 273.27,115.04 273.52,115.05 273.77,115.05 274.02,115.05 274.27,115.06 274.52,115.06 274.77,115.06 275.02,115.07 275.27,115.07 275.52,115.07 275.76,115.07 276.01,115.08 276.26,115.07 276.51,114.99 276.76,114.63 277.01,113.69 277.26,112.37 277.51,111.7 277.76,112.38 278.01,113.7 278.25,114.65 278.5,115.01 278.75,115.1 279,115.11 279.25,115.12 279.5,115.12 279.75,115.12 280,115.13 280.25,115.13 280.5,115.13 280.75,115.14 280.99,115.14 281.24,115.14 281.49,115.15 281.74,115.15 281.99,115.15 282.24,115.16 282.49,115.16 282.74,115.16 282.99,115.16 283.24,115.17 283.48,115.17 283.73,115.17 284.48,115.18 285.23,115.19 285.97,115.2 286.72,115.21 287.47,115.22 288.22,115.23 288.96,115.24 289.71,115.25 290.46,115.26 291.2,115.25 291.95,115.19 292.7,115.01 293.44,114.76 294.19,114.72 294.94,114.95 295.69,115.19 296.43,115.31 297.18,115.34 297.93,115.35 298.67,115.36 299.42,115.37 300.17,115.38 300.91,115.39 301.66,115.4 302.41,115.41 303.16,115.42 303.9,115.42 304.65,115.43 305.4,115.44 306.14,115.45 306.89,115.46 307.64,115.47 308.38,115.48 309.13,115.49 309.88,115.5 310.62,115.51 311.37,115.52 312.12,115.53 312.87,115.54 313.61,115.55 314.36,115.55 315.11,115.56 315.85,115.57 316.6,115.58 317.35,115.59 318.1,115.6 318.84,115.61 319.59,115.62 320.34,115.62 321.08,115.61 321.83,115.58 322.58,115.53 323.32,115.46 324.07,115.39 324.82,115.33 325.56,115.31 326.31,115.35 327.06,115.43 327.81,115.52 328.55,115.61 329.3,115.67" fill="none" stroke="#ff7a30" stroke-width="1.6" stroke-linejoin="round"/>
<polyline points="207.85,109.23 208.1,109.21 208.35,109.19 208.6,109.18 208.85,109.17 209.1,109.17 209.34,109.18 209.59,109.19 209.84,109.21 210.09,109.23 210.34,109.26 210.59,109.29 210.84,109.32 211.09,109.36 211.34,109.39 211.59,109.43 211.83,109.47 212.08,109.5 212.33,109.52 212.58,109.52 212.83,109.5 213.08,109.45 213.33,109.34 213.58,109.16 213.83,108.9 214.08,108.55 214.32,108.11 214.57,107.62 214.82,107.09 215.07,106.59 215.32,106.18 215.57,105.91 215.82,105.82 216.07,105.92 216.32,106.19 216.57,106.6 216.81,107.06 217.06,107.46 217.31,107.64 217.56,107.42 217.81,106.66 218.06,105.35 218.31,103.8 218.56,102.51 218.81,102 219.06,102.45 219.3,103.52 219.55,104.57 219.8,105.08 220.05,105.02 220.3,104.87 220.55,105.18 220.8,106.1 221.05,107.31 221.3,108.37 221.55,109.06 221.79,109.39 222.04,109.51 222.29,109.54 222.54,109.54 222.79,109.54 223.04,109.53 223.29,109.53 223.54,109.53 223.79,109.53 224.04,109.53 224.28,109.54 224.53,109.55 224.78,109.57 225.03,109.58 225.28,109.6 225.53,109.62 225.78,109.64 226.03,109.66 226.28,109.68 226.53,109.71 226.77,109.73 227.02,109.75 227.27,109.78 227.52,109.8 227.77,109.82 228.02,109.84 228.27,109.86 228.52,109.88 228.77,109.9 229.02,109.92 229.26,109.93 229.51,109.95 229.76,109.96 230.01,109.97 230.26,109.98 230.51,109.99 230.76,110 231.01,110.01 231.26,110.02 231.51,110.02 231.75,110.03 232,110.04 232.25,110.04 232.5,110.05 232.75,110.05 233.5,110.06 234.24,110.08 234.99,110.09 235.74,110.1 236.49,110.11 237.23,110.12 237.98,110.13 238.73,110.14 239.47,110.15 240.22,110.16 240.97,110.17 241.71,110.18 242.46,110.19 243.21,110.2 243.96,110.2 244.7,110.18 245.45,110.14 246.2,110.07 246.94,109.97 247.69,109.89 248.44,109.87 249.18,109.91 249.93,110.01 250.68,110.13 251.43,110.23 252.17,110.29 252.92,110.33 253.67,110.35 254.41,110.36 255.16,110.37 255.91,110.38 256.65,110.39 257.4,110.4 258.15,110.41 258.9,110.42 259.64,110.44 260.39,110.45 261.14,110.46 261.88,110.47 262.63,110.48 263.38,110.49 264.12,110.5 264.87,110.51 265.62,110.52 266.37,110.53 267.11,110.54 267.86,110.55 268.61,110.56 269.35,110.57 270.1,110.58 270.85,110.59 271.59,110.6 272.34,110.61 273.09,110.62 273.84,110.64 274.58,110.65 274.83,110.65 275.08,110.65 275.33,110.66 275.58,110.66 275.83,110.66 276.08,110.67 276.33,110.67 276.57,110.67 276.82,110.68 277.07,110.68 277.32,110.68 277.57,110.69 277.82,110.69 278.07,110.7 278.32,110.7 278.57,110.7 278.82,110.71 279.06,110.71 279.31,110.69 279.56,110.57 279.81,110.04 280.06,108.67 280.31,106.72 280.56,105.73 280.81,106.73 281.06,108.68 281.31,110.06 281.55,110.6 281.8,110.73 282.05,110.75 282.3,110.75 282.55,110.76 282.8,110.76 283.05,110.77 283.3,110.77 283.55,110.77 283.8,110.78 284.04,110.78 284.29,110.78 284.54,110.79 284.79,110.79 285.04,110.79 285.29,110.8 285.54,110.8 285.79,110.8 286.04,110.81 286.29,110.81 286.53,110.81 286.78,110.82 287.53,110.83 288.28,110.84 289.02,110.85 289.77,110.86 290.52,110.87 291.27,110.88 292.01,110.89 292.76,110.9 293.51,110.91 294.25,110.91 295,110.84 295.75,110.62 296.49,110.34 297.24,110.29 297.99,110.55 298.74,110.83 299.48,110.97 300.23,111 300.98,111.02 301.72,111.03 302.47,111.04 303.22,111.05 303.96,111.06 304.71,111.07 305.46,111.08 306.21,111.09 306.95,111.1 307.7,111.11 308.45,111.12 309.19,111.13 309.94,111.14 310.69,111.15 311.43,111.17 312.18,111.18 312.93,111.19 313.68,111.2 314.42,111.21 315.17,111.22 315.92,111.23 316.66,111.24 317.41,111.25 318.16,111.26 318.9,111.27 319.65,111.28 320.4,111.29 321.15,111.3 321.89,111.31 322.64,111.32 323.39,111.32 324.13,111.31 324.88,111.28 325.63,111.23 326.37,111.15 327.12,111.07 327.87,111.01 328.62,110.99 329.36,111.03 330.11,111.11 330.86,111.22 331.6,111.31 332.35,111.39" fill="none" stroke="#ffa030" stroke-width="1.6" stroke-linejoin="round"/>
<polyline points="210.9,104.73 211.15,104.71 211.4,104.7 211.65,104.68 211.9,104.68 212.15,104.68 212.39,104.68 212.64,104.69 212.89,104.71 213.14,104.73 213.39,104.76 213.64,104.79 213.89,104.83 214.14,104.86 214.39,104.9 214.64,104.94 214.88,104.97 215.13,105 215.38,105.02 215.63,105.02 215.88,104.99 216.13,104.92 216.38,104.8 216.63,104.59 216.88,104.3 217.12,103.9 217.37,103.41 217.62,102.85 217.87,102.26 218.12,101.7 218.37,101.23 218.62,100.92 218.87,100.82 219.12,100.93 219.37,101.24 219.62,101.7 219.86,102.22 220.11,102.67 220.36,102.87 220.61,102.62 220.86,101.76 221.11,100.29 221.36,98.54 221.61,97.1 221.86,96.52 222.11,97.03 222.35,98.23 222.6,99.41 222.85,99.98 223.1,99.91 223.35,99.74 223.6,100.09 223.85,101.13 224.1,102.49 224.35,103.68 224.59,104.46 224.84,104.83 225.09,104.97 225.34,105 225.59,105 225.84,104.99 226.09,104.99 226.34,104.98 226.59,104.98 226.84,104.99 227.09,104.99 227.33,105 227.58,105.01 227.83,105.03 228.08,105.04 228.33,105.06 228.58,105.08 228.83,105.11 229.08,105.13 229.33,105.16 229.58,105.18 229.82,105.21 230.07,105.24 230.32,105.26 230.57,105.29 230.82,105.32 231.07,105.34 231.32,105.36 231.57,105.38 231.82,105.4 232.06,105.42 232.31,105.44 232.56,105.46 232.81,105.47 233.06,105.48 233.31,105.5 233.56,105.51 233.81,105.52 234.06,105.53 234.31,105.54 234.56,105.54 234.8,105.55 235.05,105.56 235.3,105.56 235.55,105.57 235.8,105.58 236.55,105.59 237.29,105.6 238.04,105.62 238.79,105.63 239.53,105.64 240.28,105.65 241.03,105.66 241.78,105.68 242.52,105.69 243.27,105.7 244.02,105.71 244.76,105.72 245.51,105.73 246.26,105.74 247,105.74 247.75,105.72 248.5,105.67 249.25,105.59 249.99,105.48 250.74,105.38 251.49,105.35 252.23,105.41 252.98,105.52 253.73,105.66 254.48,105.77 255.22,105.84 255.97,105.89 256.72,105.91 257.46,105.93 258.21,105.94 258.96,105.95 259.7,105.96 260.45,105.98 261.2,105.99 261.94,106 262.69,106.01 263.44,106.02 264.19,106.04 264.93,106.05 265.68,106.06 266.43,106.07 267.17,106.08 267.92,106.1 268.67,106.11 269.42,106.12 270.16,106.13 270.91,106.14 271.66,106.16 272.4,106.17 273.15,106.18 273.9,106.19 274.64,106.2 275.39,106.22 276.14,106.23 276.88,106.24 277.63,106.25 277.88,106.26 278.13,106.26 278.38,106.26 278.63,106.27 278.88,106.27 279.13,106.28 279.38,106.28 279.62,106.28 279.87,106.29 280.12,106.29 280.37,106.3 280.62,106.3 280.87,106.3 281.12,106.31 281.37,106.31 281.62,106.32 281.87,106.32 282.11,106.32 282.36,106.29 282.61,106.09 282.86,105.17 283.11,102.8 283.36,99.46 283.61,97.75 283.86,99.47 284.11,102.82 284.36,105.2 284.6,106.12 284.85,106.33 285.1,106.37 285.35,106.38 285.6,106.38 285.85,106.38 286.1,106.39 286.35,106.39 286.6,106.4 286.85,106.4 287.09,106.4 287.34,106.41 287.59,106.41 287.84,106.42 288.09,106.42 288.34,106.42 288.59,106.43 288.84,106.43 289.09,106.44 289.34,106.44 289.58,106.44 289.83,106.45 290.58,106.46 291.33,106.47 292.07,106.48 292.82,106.5 293.57,106.51 294.31,106.52 295.06,106.53 295.81,106.54 296.56,106.55 297.3,106.55 298.05,106.47 298.8,106.23 299.54,105.9 300.29,105.84 301.04,106.14 301.79,106.47 302.53,106.62 303.28,106.66 304.03,106.68 304.77,106.69 305.52,106.7 306.27,106.71 307.01,106.72 307.76,106.74 308.51,106.75 309.25,106.76 310,106.77 310.75,106.78 311.5,106.8 312.24,106.81 312.99,106.82 313.74,106.83 314.48,106.84 315.23,106.86 315.98,106.87 316.73,106.88 317.47,106.89 318.22,106.9 318.97,106.92 319.71,106.93 320.46,106.94 321.21,106.95 321.95,106.96 322.7,106.98 323.45,106.99 324.19,107 324.94,107.01 325.69,107.02 326.44,107.02 327.18,107.01 327.93,106.98 328.68,106.92 329.42,106.84 330.17,106.75 330.92,106.68 331.67,106.66 332.41,106.7 333.16,106.8 333.91,106.91 334.65,107.02 335.4,107.1" fill="none" stroke="#ffe000" stroke-width="1.6" stroke-linejoin="round"/>
<polyline points="213.95,100.21 214.2,100.19 214.45,100.17 214.7,100.16 214.95,100.15 215.2,100.15 215.44,100.16 215.69,100.17 215.94,100.19 216.19,100.21 216.44,100.24 216.69,100.27 216.94,100.3 217.19,100.34 217.44,100.37 217.69,100.41 217.93,100.44 218.18,100.47 218.43,100.48 218.68,100.47 218.93,100.43 219.18,100.34 219.43,100.17 219.68,99.9 219.93,99.52 220.18,99.01 220.42,98.37 220.67,97.65 220.92,96.89 221.17,96.17 221.42,95.57 221.67,95.18 221.92,95.04 222.17,95.18 222.42,95.58 222.67,96.16 222.91,96.82 223.16,97.39 223.41,97.65 223.66,97.34 223.91,96.23 224.16,94.36 224.41,92.12 224.66,90.27 224.91,89.54 225.16,90.18 225.4,91.72 225.65,93.23 225.9,93.96 226.15,93.87 226.4,93.65 226.65,94.1 226.9,95.42 227.15,97.16 227.4,98.68 227.65,99.67 227.89,100.15 228.14,100.32 228.39,100.36 228.64,100.36 228.89,100.35 229.14,100.34 229.39,100.34 229.64,100.34 229.89,100.34 230.14,100.35 230.38,100.36 230.63,100.37 230.88,100.39 231.13,100.41 231.38,100.43 231.63,100.46 231.88,100.49 232.13,100.52 232.38,100.55 232.63,100.59 232.87,100.62 233.12,100.65 233.37,100.69 233.62,100.72 233.87,100.75 234.12,100.78 234.37,100.81 234.62,100.84 234.87,100.86 235.12,100.88 235.36,100.91 235.61,100.93 235.86,100.95 236.11,100.96 236.36,100.98 236.61,100.99 236.86,101 237.11,101.01 237.36,101.02 237.61,101.03 237.85,101.04 238.1,101.05 238.35,101.06 238.6,101.06 238.85,101.07 239.6,101.09 240.34,101.1 241.09,101.12 241.84,101.13 242.59,101.15 243.33,101.16 244.08,101.17 244.83,101.19 245.57,101.2 246.32,101.21 247.07,101.23 247.81,101.24 248.56,101.25 249.31,101.26 250.06,101.26 250.8,101.24 251.55,101.18 252.3,101.08 253.04,100.96 253.79,100.85 254.54,100.81 255.28,100.88 256.03,101.01 256.78,101.16 257.53,101.29 258.27,101.38 259.02,101.43 259.77,101.45 260.51,101.47 261.26,101.49 262.01,101.5 262.75,101.51 263.5,101.53 264.25,101.54 265,101.56 265.74,101.57 266.49,101.58 267.24,101.6 267.98,101.61 268.73,101.62 269.48,101.64 270.22,101.65 270.97,101.67 271.72,101.68 272.47,101.69 273.21,101.71 273.96,101.72 274.71,101.73 275.45,101.75 276.2,101.76 276.95,101.77 277.69,101.79 278.44,101.8 279.19,101.82 279.94,101.83 280.68,101.84 280.93,101.85 281.18,101.85 281.43,101.86 281.68,101.86 281.93,101.87 282.18,101.87 282.43,101.87 282.67,101.88 282.92,101.88 283.17,101.89 283.42,101.89 283.67,101.9 283.92,101.9 284.17,101.91 284.42,101.91 284.67,101.92 284.92,101.92 285.16,101.92 285.41,101.88 285.66,101.58 285.91,100.26 286.16,96.85 286.41,92.02 286.66,89.55 286.91,92.03 287.16,96.86 287.41,100.29 287.65,101.62 287.9,101.93 288.15,101.98 288.4,101.98 288.65,101.99 288.9,101.99 289.15,102 289.4,102 289.65,102.01 289.89,102.01 290.14,102.02 290.39,102.02 290.64,102.03 290.89,102.03 291.14,102.03 291.39,102.04 291.64,102.04 291.89,102.05 292.14,102.05 292.38,102.06 292.63,102.06 292.88,102.07 293.63,102.08 294.38,102.09 295.12,102.11 295.87,102.12 296.62,102.13 297.37,102.15 298.11,102.16 298.86,102.18 299.61,102.19 300.35,102.18 301.1,102.09 301.85,101.82 302.59,101.45 303.34,101.39 304.09,101.73 304.84,102.09 305.58,102.26 306.33,102.31 307.08,102.33 307.82,102.34 308.57,102.35 309.32,102.37 310.06,102.38 310.81,102.39 311.56,102.41 312.31,102.42 313.05,102.44 313.8,102.45 314.55,102.46 315.29,102.48 316.04,102.49 316.79,102.5 317.53,102.52 318.28,102.53 319.03,102.54 319.78,102.56 320.52,102.57 321.27,102.59 322.02,102.6 322.76,102.61 323.51,102.63 324.26,102.64 325,102.65 325.75,102.67 326.5,102.68 327.25,102.69 327.99,102.71 328.74,102.72 329.49,102.72 330.23,102.71 330.98,102.68 331.73,102.61 332.47,102.53 333.22,102.43 333.97,102.35 334.72,102.33 335.46,102.38 336.21,102.48 336.96,102.61 337.7,102.72 338.45,102.81" fill="none" stroke="#c8e000" stroke-width="1.6" stroke-linejoin="round"/>
<polyline points="217,95.66 217.25,95.64 217.5,95.62 217.75,95.61 218,95.6 218.25,95.6 218.49,95.61 218.74,95.62 218.99,95.64 219.24,95.66 219.49,95.69 219.74,95.72 219.99,95.75 220.24,95.79 220.49,95.82 220.74,95.86 220.98,95.89 221.23,95.91 221.48,95.92 221.73,95.9 221.98,95.85 222.23,95.72 222.48,95.51 222.73,95.18 222.98,94.71 223.22,94.08 223.47,93.31 223.72,92.42 223.97,91.5 224.22,90.62 224.47,89.89 224.72,89.4 224.97,89.24 225.22,89.41 225.47,89.89 225.72,90.6 225.96,91.4 226.21,92.1 226.46,92.41 226.71,92.03 226.96,90.68 227.21,88.4 227.46,85.68 227.71,83.42 227.96,82.53 228.21,83.31 228.45,85.18 228.7,87.02 228.95,87.9 229.2,87.79 229.45,87.53 229.7,88.07 229.95,89.68 230.2,91.8 230.45,93.65 230.69,94.85 230.94,95.44 231.19,95.65 231.44,95.7 231.69,95.7 231.94,95.68 232.19,95.67 232.44,95.66 232.69,95.66 232.94,95.67 233.19,95.67 233.43,95.69 233.68,95.7 233.93,95.72 234.18,95.75 234.43,95.78 234.68,95.81 234.93,95.85 235.18,95.88 235.43,95.92 235.68,95.96 235.92,96 236.17,96.04 236.42,96.08 236.67,96.12 236.92,96.16 237.17,96.2 237.42,96.23 237.67,96.26 237.92,96.29 238.16,96.32 238.41,96.35 238.66,96.37 238.91,96.39 239.16,96.41 239.41,96.43 239.66,96.45 239.91,96.46 240.16,96.48 240.41,96.49 240.66,96.5 240.9,96.51 241.15,96.52 241.4,96.53 241.65,96.54 241.9,96.54 242.65,96.56 243.39,96.58 244.14,96.6 244.89,96.61 245.63,96.63 246.38,96.64 247.13,96.66 247.88,96.68 248.62,96.69 249.37,96.71 250.12,96.72 250.86,96.74 251.61,96.75 252.36,96.76 253.1,96.76 253.85,96.74 254.6,96.67 255.35,96.56 256.09,96.42 256.84,96.3 257.59,96.26 258.33,96.33 259.08,96.48 259.83,96.65 260.57,96.8 261.32,96.89 262.07,96.95 262.82,96.98 263.56,97 264.31,97.02 265.06,97.03 265.8,97.05 266.55,97.06 267.3,97.08 268.05,97.09 268.79,97.11 269.54,97.13 270.29,97.14 271.03,97.16 271.78,97.17 272.53,97.19 273.27,97.2 274.02,97.22 274.77,97.23 275.51,97.25 276.26,97.27 277.01,97.28 277.76,97.3 278.5,97.31 279.25,97.33 280,97.34 280.74,97.36 281.49,97.37 282.24,97.39 282.99,97.4 283.73,97.42 283.98,97.43 284.23,97.43 284.48,97.44 284.73,97.44 284.98,97.45 285.23,97.45 285.48,97.46 285.72,97.46 285.97,97.47 286.22,97.47 286.47,97.48 286.72,97.48 286.97,97.49 287.22,97.49 287.47,97.5 287.72,97.5 287.97,97.51 288.21,97.51 288.46,97.45 288.71,97.04 288.96,95.23 289.21,90.55 289.46,83.93 289.71,80.54 289.96,83.94 290.21,90.57 290.45,95.26 290.7,97.08 290.95,97.5 291.2,97.57 291.45,97.58 291.7,97.59 291.95,97.59 292.2,97.6 292.45,97.6 292.7,97.61 292.94,97.61 293.19,97.62 293.44,97.62 293.69,97.63 293.94,97.63 294.19,97.64 294.44,97.64 294.69,97.65 294.94,97.65 295.19,97.66 295.44,97.66 295.68,97.67 295.93,97.67 296.68,97.69 297.43,97.7 298.17,97.72 298.92,97.74 299.67,97.75 300.42,97.77 301.16,97.78 301.91,97.8 302.66,97.81 303.4,97.81 304.15,97.71 304.9,97.4 305.64,96.99 306.39,96.92 307.14,97.3 307.88,97.71 308.63,97.89 309.38,97.95 310.13,97.97 310.87,97.98 311.62,98 312.37,98.01 313.11,98.03 313.86,98.05 314.61,98.06 315.36,98.08 316.1,98.09 316.85,98.11 317.6,98.12 318.34,98.14 319.09,98.15 319.84,98.17 320.58,98.19 321.33,98.2 322.08,98.22 322.82,98.23 323.57,98.25 324.32,98.26 325.07,98.28 325.81,98.29 326.56,98.31 327.31,98.33 328.05,98.34 328.8,98.36 329.55,98.37 330.3,98.39 331.04,98.4 331.79,98.41 332.54,98.42 333.28,98.41 334.03,98.37 334.78,98.31 335.52,98.21 336.27,98.1 337.02,98.02 337.76,98 338.51,98.05 339.26,98.17 340.01,98.3 340.75,98.43 341.5,98.53" fill="none" stroke="#8cdc00" stroke-width="1.6" stroke-linejoin="round"/>
<polyline points="220.05,91.08 220.3,91.06 220.55,91.05 220.8,91.03 221.05,91.03 221.3,91.03 221.54,91.03 221.79,91.04 222.04,91.06 222.29,91.08 222.54,91.11 222.79,91.14 223.04,91.18 223.29,91.21 223.54,91.25 223.79,91.28 224.03,91.31 224.28,91.33 224.53,91.32 224.78,91.28 225.03,91.18 225.28,91 225.53,90.68 225.78,90.2 226.03,89.51 226.28,88.61 226.52,87.5 226.77,86.23 227.02,84.9 227.27,83.63 227.52,82.59 227.77,81.9 228.02,81.65 228.27,81.89 228.52,82.58 228.77,83.59 229.01,84.73 229.26,85.73 229.51,86.18 229.76,85.63 230.01,83.7 230.26,80.44 230.51,76.55 230.76,73.33 231.01,72.05 231.26,73.16 231.5,75.84 231.75,78.46 232,79.72 232.25,79.57 232.5,79.19 232.75,79.96 233,82.26 233.25,85.28 233.5,87.93 233.75,89.64 233.99,90.48 234.24,90.78 234.49,90.85 234.74,90.84 234.99,90.82 235.24,90.81 235.49,90.8 235.74,90.79 235.99,90.79 236.24,90.8 236.48,90.82 236.73,90.84 236.98,90.87 237.23,90.91 237.48,90.95 237.73,90.99 237.98,91.04 238.23,91.09 238.48,91.15 238.73,91.2 238.97,91.26 239.22,91.31 239.47,91.37 239.72,91.42 239.97,91.48 240.22,91.53 240.47,91.57 240.72,91.62 240.97,91.66 241.22,91.7 241.46,91.74 241.71,91.77 241.96,91.8 242.21,91.83 242.46,91.85 242.71,91.87 242.96,91.89 243.21,91.91 243.46,91.92 243.71,91.94 243.95,91.95 244.2,91.96 244.45,91.97 244.7,91.98 244.95,91.99 245.7,92.02 246.44,92.04 247.19,92.06 247.94,92.07 248.69,92.09 249.43,92.11 250.18,92.13 250.93,92.14 251.67,92.16 252.42,92.18 253.17,92.2 253.91,92.21 254.66,92.23 255.41,92.24 256.16,92.24 256.9,92.21 257.65,92.14 258.4,92.02 259.14,91.86 259.89,91.72 260.64,91.68 261.38,91.76 262.13,91.93 262.88,92.12 263.62,92.28 264.37,92.39 265.12,92.45 265.87,92.49 266.61,92.51 267.36,92.53 268.11,92.55 268.85,92.56 269.6,92.58 270.35,92.6 271.1,92.62 271.84,92.63 272.59,92.65 273.34,92.67 274.08,92.69 274.83,92.7 275.58,92.72 276.32,92.74 277.07,92.76 277.82,92.77 278.56,92.79 279.31,92.81 280.06,92.83 280.81,92.84 281.55,92.86 282.3,92.88 283.05,92.9 283.79,92.91 284.54,92.93 285.29,92.95 286.04,92.97 286.78,92.99 287.03,92.99 287.28,93 287.53,93 287.78,93.01 288.03,93.01 288.28,93.02 288.52,93.03 288.77,93.03 289.02,93.04 289.27,93.04 289.52,93.05 289.77,93.06 290.02,93.06 290.27,93.07 290.52,93.07 290.77,93.08 291.01,93.08 291.26,93.08 291.51,93.02 291.76,92.53 292.01,90.4 292.26,84.89 292.51,77.1 292.76,73.13 293.01,77.12 293.26,84.91 293.5,90.44 293.75,92.58 294,93.08 294.25,93.15 294.5,93.17 294.75,93.17 295,93.18 295.25,93.18 295.5,93.19 295.75,93.2 296,93.2 296.24,93.21 296.49,93.21 296.74,93.22 296.99,93.22 297.24,93.23 297.49,93.24 297.74,93.24 297.99,93.25 298.24,93.25 298.49,93.26 298.73,93.27 298.98,93.27 299.73,93.29 300.48,93.31 301.22,93.32 301.97,93.34 302.72,93.36 303.47,93.38 304.21,93.39 304.96,93.41 305.71,93.43 306.45,93.42 307.2,93.32 307.95,92.98 308.69,92.53 309.44,92.45 310.19,92.87 310.94,93.31 311.68,93.52 312.43,93.58 313.18,93.6 313.92,93.62 314.67,93.64 315.42,93.66 316.16,93.67 316.91,93.69 317.66,93.71 318.41,93.73 319.15,93.74 319.9,93.76 320.65,93.78 321.39,93.8 322.14,93.81 322.89,93.83 323.63,93.85 324.38,93.87 325.13,93.88 325.88,93.9 326.62,93.92 327.37,93.94 328.12,93.95 328.86,93.97 329.61,93.99 330.36,94.01 331.1,94.02 331.85,94.04 332.6,94.06 333.35,94.08 334.09,94.09 334.84,94.11 335.59,94.11 336.33,94.1 337.08,94.06 337.83,93.99 338.57,93.89 339.32,93.78 340.07,93.69 340.81,93.67 341.56,93.73 342.31,93.85 343.06,94 343.8,94.13 344.55,94.24" fill="none" stroke="#50d820" stroke-width="1.6" stroke-linejoin="round"/>
<polyline points="223.1,86.49 223.35,86.47 223.6,86.45 223.85,86.44 224.1,86.43 224.35,86.43 224.59,86.44 224.84,86.45 225.09,86.47 225.34,86.49 225.59,86.51 225.84,86.55 226.09,86.58 226.34,86.61 226.59,86.65 226.84,86.68 227.08,86.71 227.33,86.72 227.58,86.7 227.83,86.63 228.08,86.49 228.33,86.22 228.58,85.79 228.83,85.13 229.08,84.2 229.33,82.97 229.57,81.46 229.82,79.74 230.07,77.94 230.32,76.23 230.57,74.81 230.82,73.88 231.07,73.55 231.32,73.87 231.57,74.79 231.82,76.16 232.06,77.7 232.31,79.04 232.56,79.65 232.81,78.9 233.06,76.3 233.31,71.9 233.56,66.64 233.81,62.29 234.06,60.57 234.31,62.07 234.55,65.68 234.8,69.22 235.05,70.92 235.3,70.71 235.55,70.2 235.8,71.24 236.05,74.34 236.3,78.42 236.55,82 236.8,84.31 237.04,85.43 237.29,85.84 237.54,85.93 237.79,85.93 238.04,85.9 238.29,85.87 238.54,85.86 238.79,85.85 239.04,85.85 239.29,85.86 239.53,85.88 239.78,85.91 240.03,85.95 240.28,86 240.53,86.05 240.78,86.11 241.03,86.17 241.28,86.24 241.53,86.31 241.78,86.39 242.02,86.46 242.27,86.53 242.52,86.61 242.77,86.68 243.02,86.75 243.27,86.82 243.52,86.88 243.77,86.94 244.02,86.99 244.27,87.05 244.51,87.09 244.76,87.14 245.01,87.18 245.26,87.21 245.51,87.24 245.76,87.27 246.01,87.3 246.26,87.32 246.51,87.34 246.76,87.36 247,87.37 247.25,87.39 247.5,87.4 247.75,87.41 248,87.42 248.75,87.45 249.49,87.47 250.24,87.49 250.99,87.51 251.74,87.53 252.48,87.55 253.23,87.57 253.98,87.59 254.72,87.61 255.47,87.63 256.22,87.65 256.96,87.67 257.71,87.69 258.46,87.7 259.21,87.7 259.95,87.67 260.7,87.6 261.45,87.46 262.19,87.28 262.94,87.14 263.69,87.09 264.43,87.18 265.18,87.36 265.93,87.58 266.68,87.75 267.42,87.87 268.17,87.94 268.92,87.98 269.66,88 270.41,88.03 271.16,88.05 271.9,88.07 272.65,88.09 273.4,88.11 274.15,88.13 274.89,88.14 275.64,88.16 276.39,88.18 277.13,88.2 277.88,88.22 278.63,88.24 279.37,88.26 280.12,88.28 280.87,88.3 281.62,88.32 282.36,88.34 283.11,88.36 283.86,88.38 284.6,88.4 285.35,88.42 286.1,88.44 286.84,88.46 287.59,88.48 288.34,88.5 289.09,88.52 289.83,88.54 290.08,88.54 290.33,88.55 290.58,88.56 290.83,88.56 291.08,88.57 291.33,88.58 291.58,88.58 291.82,88.59 292.07,88.6 292.32,88.6 292.57,88.61 292.82,88.62 293.07,88.62 293.32,88.63 293.57,88.64 293.82,88.64 294.07,88.65 294.31,88.65 294.56,88.57 294.81,87.98 295.06,85.43 295.31,78.82 295.56,69.47 295.81,64.7 296.06,69.48 296.31,78.84 296.56,85.47 296.8,88.04 297.05,88.64 297.3,88.73 297.55,88.74 297.8,88.75 298.05,88.75 298.3,88.76 298.55,88.77 298.8,88.77 299.05,88.78 299.29,88.79 299.54,88.79 299.79,88.8 300.04,88.81 300.29,88.81 300.54,88.82 300.79,88.83 301.04,88.83 301.29,88.84 301.54,88.85 301.78,88.85 302.03,88.86 302.78,88.88 303.53,88.9 304.27,88.92 305.02,88.94 305.77,88.96 306.52,88.98 307.26,89 308.01,89.02 308.76,89.03 309.5,89.03 310.25,88.91 311,88.55 311.74,88.06 312.49,87.97 313.24,88.43 313.99,88.92 314.73,89.14 315.48,89.21 316.23,89.23 316.97,89.25 317.72,89.27 318.47,89.29 319.21,89.31 319.96,89.33 320.71,89.35 321.46,89.37 322.2,89.39 322.95,89.41 323.7,89.43 324.44,89.45 325.19,89.47 325.94,89.49 326.68,89.51 327.43,89.53 328.18,89.55 328.93,89.57 329.67,89.59 330.42,89.61 331.17,89.63 331.91,89.65 332.66,89.67 333.41,89.69 334.15,89.71 334.9,89.73 335.65,89.75 336.4,89.76 337.14,89.78 337.89,89.8 338.64,89.8 339.38,89.79 340.13,89.76 340.88,89.68 341.62,89.57 342.37,89.45 343.12,89.36 343.87,89.34 344.61,89.4 345.36,89.53 346.11,89.69 346.85,89.84 347.6,89.95" fill="none" stroke="#22d844" stroke-width="1.6" stroke-linejoin="round"/>
<polyline points="226.15,81.87 226.4,81.85 226.65,81.83 226.9,81.82 227.15,81.81 227.4,81.81 227.64,81.82 227.89,81.83 228.14,81.85 228.39,81.87 228.64,81.9 228.89,81.93 229.14,81.96 229.39,82 229.64,82.03 229.89,82.06 230.13,82.09 230.38,82.09 230.63,82.07 230.88,81.99 231.13,81.81 231.38,81.51 231.63,81 231.88,80.24 232.13,79.17 232.38,77.75 232.62,76.02 232.87,74.04 233.12,71.97 233.37,70.01 233.62,68.38 233.87,67.3 234.12,66.92 234.37,67.29 234.62,68.35 234.87,69.92 235.11,71.69 235.36,73.22 235.61,73.92 235.86,73.07 236.11,70.08 236.36,65.03 236.61,58.99 236.86,53.99 237.11,52.02 237.36,53.74 237.6,57.88 237.85,61.95 238.1,63.9 238.35,63.66 238.6,63.07 238.85,64.27 239.1,67.82 239.35,72.51 239.6,76.62 239.84,79.27 240.09,80.56 240.34,81.03 240.59,81.13 240.84,81.12 241.09,81.09 241.34,81.06 241.59,81.04 241.84,81.03 242.09,81.04 242.34,81.05 242.58,81.07 242.83,81.11 243.08,81.15 243.33,81.2 243.58,81.26 243.83,81.33 244.08,81.4 244.33,81.48 244.58,81.56 244.83,81.65 245.07,81.73 245.32,81.82 245.57,81.9 245.82,81.99 246.07,82.07 246.32,82.14 246.57,82.22 246.82,82.28 247.07,82.35 247.31,82.41 247.56,82.46 247.81,82.51 248.06,82.55 248.31,82.59 248.56,82.63 248.81,82.66 249.06,82.69 249.31,82.72 249.56,82.74 249.81,82.76 250.05,82.78 250.3,82.79 250.55,82.81 250.8,82.82 251.05,82.83 251.8,82.86 252.54,82.89 253.29,82.92 254.04,82.94 254.78,82.96 255.53,82.98 256.28,83 257.03,83.03 257.77,83.05 258.52,83.07 259.27,83.09 260.01,83.11 260.76,83.13 261.51,83.15 262.25,83.15 263,83.12 263.75,83.03 264.5,82.88 265.24,82.69 265.99,82.53 266.74,82.48 267.48,82.58 268.23,82.78 268.98,83.01 269.73,83.21 270.47,83.34 271.22,83.41 271.97,83.46 272.71,83.49 273.46,83.51 274.21,83.53 274.95,83.55 275.7,83.58 276.45,83.6 277.19,83.62 277.94,83.64 278.69,83.66 279.44,83.69 280.18,83.71 280.93,83.73 281.68,83.75 282.42,83.77 283.17,83.8 283.92,83.82 284.67,83.84 285.41,83.86 286.16,83.88 286.91,83.91 287.65,83.93 288.4,83.95 289.15,83.97 289.89,83.99 290.64,84.01 291.39,84.04 292.13,84.06 292.88,84.08 293.13,84.09 293.38,84.1 293.63,84.1 293.88,84.11 294.13,84.12 294.38,84.12 294.62,84.13 294.87,84.14 295.12,84.15 295.37,84.15 295.62,84.16 295.87,84.17 296.12,84.18 296.37,84.18 296.62,84.19 296.87,84.2 297.12,84.2 297.36,84.2 297.61,84.11 297.86,83.4 298.11,80.31 298.36,72.32 298.61,61.03 298.86,55.26 299.11,61.04 299.36,72.35 299.61,80.35 299.85,83.46 300.1,84.18 300.35,84.29 300.6,84.31 300.85,84.32 301.1,84.32 301.35,84.33 301.6,84.34 301.85,84.34 302.1,84.35 302.34,84.36 302.59,84.37 302.84,84.37 303.09,84.38 303.34,84.39 303.59,84.4 303.84,84.4 304.09,84.41 304.34,84.42 304.59,84.43 304.83,84.43 305.08,84.44 305.83,84.46 306.58,84.48 307.32,84.51 308.07,84.53 308.82,84.55 309.56,84.57 310.31,84.59 311.06,84.62 311.81,84.63 312.55,84.63 313.3,84.51 314.05,84.11 314.79,83.58 315.54,83.49 316.29,83.98 317.04,84.51 317.78,84.76 318.53,84.83 319.28,84.86 320.02,84.88 320.77,84.9 321.52,84.92 322.26,84.95 323.01,84.97 323.76,84.99 324.5,85.01 325.25,85.03 326,85.05 326.75,85.08 327.49,85.1 328.24,85.12 328.99,85.14 329.73,85.16 330.48,85.19 331.23,85.21 331.98,85.23 332.72,85.25 333.47,85.27 334.22,85.3 334.96,85.32 335.71,85.34 336.46,85.36 337.2,85.38 337.95,85.41 338.7,85.43 339.44,85.45 340.19,85.47 340.94,85.49 341.69,85.5 342.43,85.49 343.18,85.45 343.93,85.37 344.67,85.25 345.42,85.13 346.17,85.03 346.92,85.01 347.66,85.08 348.41,85.22 349.16,85.39 349.9,85.54 350.65,85.67" fill="none" stroke="#22c8e8" stroke-width="1.6" stroke-linejoin="round"/>
<polyline points="229.2,77.24 229.45,77.21 229.7,77.2 229.95,77.19 230.2,77.18 230.45,77.18 230.69,77.18 230.94,77.2 231.19,77.21 231.44,77.24 231.69,77.26 231.94,77.29 232.19,77.33 232.44,77.36 232.69,77.4 232.94,77.43 233.18,77.45 233.43,77.45 233.68,77.41 233.93,77.3 234.18,77.09 234.43,76.72 234.68,76.11 234.93,75.2 235.18,73.91 235.43,72.22 235.67,70.15 235.92,67.79 236.17,65.31 236.42,62.97 236.67,61.02 236.92,59.73 237.17,59.28 237.42,59.72 237.67,60.98 237.92,62.85 238.16,64.96 238.41,66.79 238.66,67.63 238.91,66.6 239.16,63.04 239.41,57.01 239.66,49.8 239.91,43.84 240.16,41.48 240.41,43.53 240.65,48.48 240.9,53.33 241.15,55.66 241.4,55.37 241.65,54.67 241.9,56.1 242.15,60.34 242.4,65.93 242.65,70.84 242.9,74 243.14,75.53 243.39,76.09 243.64,76.22 243.89,76.21 244.14,76.17 244.39,76.14 244.64,76.11 244.89,76.1 245.14,76.1 245.39,76.12 245.63,76.15 245.88,76.19 246.13,76.24 246.38,76.3 246.63,76.37 246.88,76.45 247.13,76.54 247.38,76.63 247.63,76.73 247.88,76.83 248.12,76.93 248.37,77.03 248.62,77.13 248.87,77.23 249.12,77.32 249.37,77.41 249.62,77.5 249.87,77.58 250.12,77.66 250.37,77.72 250.61,77.79 250.86,77.85 251.11,77.9 251.36,77.95 251.61,77.99 251.86,78.03 252.11,78.06 252.36,78.09 252.61,78.12 252.86,78.14 253.1,78.16 253.35,78.18 253.6,78.2 253.85,78.21 254.1,78.23 254.85,78.26 255.59,78.29 256.34,78.32 257.09,78.34 257.84,78.37 258.58,78.39 259.33,78.42 260.08,78.44 260.82,78.47 261.57,78.49 262.32,78.52 263.06,78.54 263.81,78.56 264.56,78.58 265.31,78.58 266.05,78.55 266.8,78.45 267.55,78.29 268.29,78.09 269.04,77.91 269.79,77.86 270.53,77.96 271.28,78.18 272.03,78.44 272.78,78.65 273.52,78.79 274.27,78.87 275.02,78.92 275.76,78.95 276.51,78.98 277.26,79 278,79.03 278.75,79.05 279.5,79.08 280.25,79.1 280.99,79.13 281.74,79.15 282.49,79.17 283.23,79.2 283.98,79.22 284.73,79.25 285.47,79.27 286.22,79.3 286.97,79.32 287.72,79.34 288.46,79.37 289.21,79.39 289.96,79.42 290.7,79.44 291.45,79.47 292.2,79.49 292.94,79.52 293.69,79.54 294.44,79.56 295.19,79.59 295.93,79.61 296.18,79.62 296.43,79.63 296.68,79.64 296.93,79.65 297.18,79.65 297.43,79.66 297.68,79.67 297.92,79.68 298.17,79.69 298.42,79.69 298.67,79.7 298.92,79.71 299.17,79.72 299.42,79.73 299.67,79.74 299.92,79.74 300.17,79.75 300.41,79.75 300.66,79.65 300.91,78.92 301.16,75.72 301.41,67.46 301.66,55.78 301.91,49.81 302.16,55.79 302.41,67.49 302.66,75.77 302.9,78.98 303.15,79.73 303.4,79.85 303.65,79.86 303.9,79.87 304.15,79.88 304.4,79.89 304.65,79.9 304.9,79.91 305.14,79.91 305.39,79.92 305.64,79.93 305.89,79.94 306.14,79.95 306.39,79.95 306.64,79.96 306.89,79.97 307.14,79.98 307.39,79.99 307.63,80 307.88,80 308.13,80.01 308.88,80.04 309.63,80.06 310.37,80.08 311.12,80.11 311.87,80.13 312.62,80.16 313.36,80.18 314.11,80.21 314.86,80.23 315.6,80.22 316.35,80.09 317.1,79.66 317.84,79.09 318.59,79 319.34,79.53 320.09,80.1 320.83,80.36 321.58,80.44 322.33,80.47 323.07,80.5 323.82,80.52 324.57,80.55 325.31,80.57 326.06,80.6 326.81,80.62 327.56,80.65 328.3,80.67 329.05,80.69 329.8,80.72 330.54,80.74 331.29,80.77 332.04,80.79 332.78,80.82 333.53,80.84 334.28,80.87 335.03,80.89 335.77,80.91 336.52,80.94 337.27,80.96 338.01,80.99 338.76,81.01 339.51,81.04 340.25,81.06 341,81.09 341.75,81.11 342.5,81.13 343.24,81.16 343.99,81.18 344.74,81.18 345.48,81.18 346.23,81.14 346.98,81.05 347.72,80.93 348.47,80.8 349.22,80.7 349.97,80.68 350.71,80.75 351.46,80.9 352.21,81.08 352.95,81.25 353.7,81.38" fill="none" stroke="#3aa0ff" stroke-width="1.6" stroke-linejoin="round"/>
<polyline points="232.25,72.58 232.5,72.56 232.75,72.54 233,72.53 233.25,72.52 233.5,72.52 233.74,72.53 233.99,72.54 234.24,72.56 234.49,72.58 234.74,72.61 234.99,72.64 235.24,72.67 235.49,72.71 235.74,72.74 235.99,72.77 236.23,72.79 236.48,72.78 236.73,72.74 236.98,72.61 237.23,72.37 237.48,71.95 237.73,71.27 237.98,70.24 238.23,68.79 238.47,66.9 238.72,64.57 238.97,61.92 239.22,59.14 239.47,56.51 239.72,54.33 239.97,52.88 240.22,52.37 240.47,52.86 240.72,54.28 240.97,56.37 241.21,58.74 241.46,60.79 241.71,61.73 241.96,60.58 242.21,56.59 242.46,49.81 242.71,41.74 242.96,35.05 243.21,32.4 243.46,34.7 243.7,40.25 243.95,45.69 244.2,48.31 244.45,47.98 244.7,47.19 244.95,48.79 245.2,53.55 245.45,59.82 245.7,65.32 245.94,68.87 246.19,70.59 246.44,71.22 246.69,71.36 246.94,71.35 247.19,71.3 247.44,71.27 247.69,71.24 247.94,71.23 248.19,71.23 248.44,71.24 248.68,71.28 248.93,71.32 249.18,71.38 249.43,71.45 249.68,71.53 249.93,71.62 250.18,71.71 250.43,71.82 250.68,71.93 250.93,72.04 251.17,72.15 251.42,72.27 251.67,72.38 251.92,72.49 252.17,72.59 252.42,72.7 252.67,72.79 252.92,72.88 253.17,72.97 253.41,73.04 253.66,73.11 253.91,73.18 254.16,73.24 254.41,73.29 254.66,73.34 254.91,73.38 255.16,73.42 255.41,73.45 255.66,73.48 255.91,73.51 256.15,73.53 256.4,73.55 256.65,73.57 256.9,73.59 257.15,73.6 257.9,73.64 258.64,73.68 259.39,73.71 260.14,73.73 260.88,73.76 261.63,73.79 262.38,73.82 263.13,73.84 263.87,73.87 264.62,73.9 265.37,73.92 266.11,73.95 266.86,73.97 267.61,73.99 268.36,74 269.1,73.96 269.85,73.86 270.6,73.69 271.34,73.47 272.09,73.28 272.84,73.22 273.58,73.33 274.33,73.57 275.08,73.85 275.82,74.08 276.57,74.23 277.32,74.32 278.07,74.37 278.81,74.41 279.56,74.43 280.31,74.46 281.05,74.49 281.8,74.52 282.55,74.54 283.3,74.57 284.04,74.6 284.79,74.62 285.54,74.65 286.28,74.68 287.03,74.7 287.78,74.73 288.52,74.76 289.27,74.79 290.02,74.81 290.76,74.84 291.51,74.87 292.26,74.89 293.01,74.92 293.75,74.95 294.5,74.97 295.25,75 295.99,75.03 296.74,75.06 297.49,75.08 298.24,75.11 298.98,75.14 299.23,75.14 299.48,75.15 299.73,75.16 299.98,75.17 300.23,75.18 300.48,75.19 300.73,75.2 300.97,75.21 301.22,75.22 301.47,75.23 301.72,75.23 301.97,75.24 302.22,75.25 302.47,75.26 302.72,75.27 302.97,75.28 303.22,75.29 303.46,75.29 303.71,75.18 303.96,74.4 304.21,70.99 304.46,62.18 304.71,49.72 304.96,43.35 305.21,49.74 305.46,62.21 305.7,71.05 305.95,74.47 306.2,75.27 306.45,75.39 306.7,75.41 306.95,75.42 307.2,75.43 307.45,75.44 307.7,75.45 307.95,75.46 308.19,75.47 308.44,75.48 308.69,75.49 308.94,75.5 309.19,75.5 309.44,75.51 309.69,75.52 309.94,75.53 310.19,75.54 310.44,75.55 310.69,75.56 310.93,75.57 311.18,75.58 311.93,75.6 312.68,75.63 313.42,75.66 314.17,75.68 314.92,75.71 315.67,75.74 316.41,75.76 317.16,75.79 317.91,75.82 318.65,75.81 319.4,75.67 320.15,75.21 320.89,74.6 321.64,74.5 322.39,75.07 323.13,75.68 323.88,75.97 324.63,76.05 325.38,76.09 326.12,76.12 326.87,76.14 327.62,76.17 328.36,76.2 329.11,76.22 329.86,76.25 330.61,76.28 331.35,76.3 332.1,76.33 332.85,76.36 333.59,76.38 334.34,76.41 335.09,76.44 335.83,76.47 336.58,76.49 337.33,76.52 338.07,76.55 338.82,76.57 339.57,76.6 340.32,76.63 341.06,76.65 341.81,76.68 342.56,76.71 343.3,76.73 344.05,76.76 344.8,76.79 345.55,76.82 346.29,76.84 347.04,76.86 347.79,76.87 348.53,76.86 349.28,76.82 350.03,76.74 350.77,76.61 351.52,76.47 352.27,76.37 353.01,76.35 353.76,76.42 354.51,76.58 355.26,76.77 356,76.95 356.75,77.09" fill="none" stroke="#3a70ff" stroke-width="1.6" stroke-linejoin="round"/>
<polyline points="235.3,67.91 235.55,67.89 235.8,67.87 236.05,67.86 236.3,67.85 236.55,67.85 236.79,67.86 237.04,67.87 237.29,67.89 237.54,67.91 237.79,67.94 238.04,67.97 238.29,68 238.54,68.03 238.79,68.07 239.04,68.1 239.28,68.11 239.53,68.1 239.78,68.05 240.03,67.91 240.28,67.64 240.53,67.16 240.78,66.4 241.03,65.26 241.28,63.66 241.53,61.55 241.77,58.97 242.02,56.03 242.27,52.95 242.52,50.03 242.77,47.61 243.02,46.01 243.27,45.44 243.52,45.99 243.77,47.55 244.02,49.87 244.26,52.5 244.51,54.78 244.76,55.81 245.01,54.54 245.26,50.11 245.51,42.61 245.76,33.65 246.01,26.23 246.26,23.3 246.51,25.85 246.75,32 247,38.03 247.25,40.93 247.5,40.57 247.75,39.69 248,41.47 248.25,46.74 248.5,53.69 248.75,59.79 249,63.72 249.24,65.63 249.49,66.33 249.74,66.49 249.99,66.47 250.24,66.42 250.49,66.38 250.74,66.35 250.99,66.33 251.24,66.34 251.49,66.35 251.73,66.39 251.98,66.44 252.23,66.5 252.48,66.58 252.73,66.66 252.98,66.76 253.23,66.87 253.48,66.99 253.73,67.11 253.98,67.23 254.22,67.36 254.47,67.48 254.72,67.61 254.97,67.73 255.22,67.85 255.47,67.96 255.72,68.07 255.97,68.17 256.22,68.26 256.47,68.35 256.71,68.42 256.96,68.5 257.21,68.56 257.46,68.62 257.71,68.67 257.96,68.72 258.21,68.76 258.46,68.8 258.71,68.83 258.96,68.86 259.2,68.89 259.45,68.91 259.7,68.93 259.95,68.95 260.2,68.97 260.95,69.01 261.69,69.05 262.44,69.08 263.19,69.11 263.94,69.14 264.68,69.17 265.43,69.2 266.18,69.23 266.92,69.26 267.67,69.29 268.42,69.32 269.16,69.35 269.91,69.37 270.66,69.39 271.41,69.4 272.15,69.36 272.9,69.26 273.65,69.07 274.39,68.83 275.14,68.63 275.89,68.57 276.63,68.69 277.38,68.95 278.13,69.25 278.88,69.49 279.62,69.66 280.37,69.75 281.12,69.81 281.86,69.85 282.61,69.88 283.36,69.91 284.1,69.94 284.85,69.97 285.6,70 286.35,70.03 287.09,70.06 287.84,70.09 288.59,70.12 289.33,70.15 290.08,70.18 290.83,70.21 291.57,70.23 292.32,70.26 293.07,70.29 293.81,70.32 294.56,70.35 295.31,70.38 296.06,70.41 296.8,70.44 297.55,70.47 298.3,70.5 299.04,70.53 299.79,70.56 300.54,70.59 301.29,70.62 302.03,70.65 302.28,70.66 302.53,70.67 302.78,70.68 303.03,70.69 303.28,70.7 303.53,70.71 303.77,70.72 304.02,70.73 304.27,70.74 304.52,70.75 304.77,70.76 305.02,70.77 305.27,70.78 305.52,70.79 305.77,70.8 306.02,70.81 306.26,70.82 306.51,70.82 306.76,70.71 307.01,69.9 307.26,66.39 307.51,57.3 307.76,44.45 308.01,37.89 308.26,44.47 308.51,57.34 308.75,66.45 309,69.98 309.25,70.81 309.5,70.93 309.75,70.95 310,70.97 310.25,70.98 310.5,70.99 310.75,71 311,71 311.25,71.01 311.49,71.02 311.74,71.03 311.99,71.04 312.24,71.05 312.49,71.06 312.74,71.07 312.99,71.08 313.24,71.09 313.49,71.1 313.74,71.11 313.98,71.12 314.23,71.13 314.98,71.16 315.73,71.19 316.47,71.22 317.22,71.25 317.97,71.28 318.72,71.31 319.46,71.34 320.21,71.37 320.96,71.4 321.7,71.39 322.45,71.24 323.2,70.76 323.94,70.11 324.69,70 325.44,70.61 326.19,71.26 326.93,71.57 327.68,71.66 328.43,71.7 329.17,71.73 329.92,71.76 330.67,71.78 331.41,71.81 332.16,71.84 332.91,71.87 333.66,71.9 334.4,71.93 335.15,71.96 335.9,71.99 336.64,72.02 337.39,72.05 338.14,72.08 338.88,72.11 339.63,72.14 340.38,72.17 341.12,72.2 341.87,72.23 342.62,72.26 343.37,72.29 344.11,72.32 344.86,72.35 345.61,72.38 346.35,72.41 347.1,72.44 347.85,72.47 348.6,72.5 349.34,72.52 350.09,72.55 350.84,72.56 351.58,72.55 352.33,72.51 353.08,72.42 353.82,72.29 354.57,72.14 355.32,72.04 356.06,72.01 356.81,72.09 357.56,72.26 358.31,72.47 359.05,72.66 359.8,72.81" fill="none" stroke="#3030e8" stroke-width="1.6" stroke-linejoin="round"/>
<path d="M197.3 61.5V124L197.3 124H320.6" fill="none" stroke="#1a1a1a" stroke-width="1.5"/>
<path d="M197.3 61.5L236.8 9.3" fill="none" stroke="#1a1a1a" stroke-width="1.4"/>
<path d="M236.8 9.3H360.5V69.3" fill="none" stroke="#1a1a1a" stroke-width="1.2"/>
<path d="M320.6 124L360.5 69.3" fill="none" stroke="#1a1a1a" stroke-width="1.3"/>
<path d="M360.5 69.3h2M360.5 64.3h1.2M360.5 59.3h2M360.5 54.3h1.2M360.5 49.3h2M360.5 44.3h1.2M360.5 39.3h2M360.5 34.3h1.2M360.5 29.3h2M360.5 24.3h1.2M360.5 19.3h2M360.5 14.3h1.2M360.5 9.3h2M197.3 124v-1.8M209.63 124v-1M221.96 124v-1.8M234.29 124v-1M246.62 124v-1.8M258.95 124v-1M271.28 124v-1.8M283.61 124v-1M295.94 124v-1.8M308.27 124v-1M320.6 124v-1.8" stroke="#1a1a1a" stroke-width="0.8" fill="none"/>
<g font-family="Liberation Sans" font-size="7.4" fill="#333" stroke="#333" stroke-width="0.12"><text transform="translate(361.8,71.8) scale(0.85,1)">0.0</text><text transform="translate(361.8,61.8) scale(0.85,1)">1.0</text><text transform="translate(361.8,51.8) scale(0.85,1)">2.0</text><text transform="translate(361.8,41.8) scale(0.85,1)">3.0</text><text transform="translate(361.8,31.8) scale(0.85,1)">4.0</text><text transform="translate(361.8,21.8) scale(0.85,1)">5.0</text><text transform="translate(361.8,11.8) scale(0.85,1)">6.0</text></g>
<text transform="translate(376.3,37.8) rotate(-90) scale(1,0.85)" font-family="Liberation Sans" font-size="9.6" fill="#444" stroke="#444" stroke-width="0.1" text-anchor="middle">Intensity (a.u.)</text>
<g font-family="Liberation Sans" font-size="7.6" fill="#333" stroke="#333" stroke-width="0.12" text-anchor="middle"><text x="195.6" y="131.8">500</text><text x="219.85" y="131.8">600</text><text x="244.1" y="131.8">700</text><text x="268.35" y="131.8">800</text><text x="292.6" y="131.8">900</text><text x="316.85" y="131.8">1000</text></g>
<text x="258.5" y="139.6" font-family="Liberation Sans" font-size="7.2" fill="#333" stroke="#333" stroke-width="0.2" text-anchor="middle">Wavelength (nm)</text>
<g font-family="Liberation Sans" font-size="7.8" fill="#333" stroke="#333" stroke-width="0.12"><text transform="translate(329.8,120.4) skewX(-28) scale(0.95,1)" text-anchor="middle" y="2.8">2.1</text><text transform="translate(336.6,112.4) skewX(-28) scale(0.95,1)" text-anchor="middle" y="2.8">7.2</text><text transform="translate(343.8,104.4) skewX(-28) scale(0.95,1)" text-anchor="middle" y="2.8">12.3</text><text transform="translate(351.6,95.9) skewX(-28) scale(0.95,1)" text-anchor="middle" y="2.8">19.0</text><text transform="translate(357.5,87.8) skewX(-28) scale(0.95,1)" text-anchor="middle" y="2.8">25.5</text><text transform="translate(361.8,79.8) skewX(-28) scale(0.95,1)" text-anchor="middle" y="2.8">32.0</text></g>
<text transform="translate(361.1,97.1) rotate(-54) scale(1,-1) skewX(-10)" font-family="Liberation Sans" font-size="7.6" fill="#333" stroke="#333" stroke-width="0.15" text-anchor="middle" y="2.6">Power (mW)</text>
<text transform="translate(199.7,20.7) scale(0.95,1)" font-family="Liberation Sans" font-size="14" fill="#222">(b)</text>
<text x="284.1" y="25.9" font-family="Liberation Sans" font-size="12.2" fill="#222">With Arrays</text>
<circle cx="307.3" cy="31.7" r="3.4" fill="#c0281e"/>
<path d="M272.9 57.2L275.5 61.7L272.9 66.2L270.3 61.7Z" fill="none" stroke="#ee2a2a" stroke-width="1.2"/>
<path d="M320.2 61.6L322.7 69H317.7Z" fill="none" stroke="#bb3333" stroke-width="1.2"/>
<path d="M347.4 61.6L351.8 64.6V70.2H343V64.6Z" fill="none" stroke="#c0392b" stroke-width="1.2"/>
<path d="M238.58 29.8L237.78 36.2M240.42 29.8L239.62 36.2M236.8 31.85H241.4M236.8 34.15H241.4" stroke="#2fbf62" stroke-width="1.05" fill="none"/>
<path d="M244.2 16.5L244.2 22.5M246.8 18L241.6 21M241.6 18L246.8 21" stroke="#b8d83a" stroke-width="0.9" fill="none"/>
<path d="M219 179.4L219 185.2M221.51 180.85L216.49 183.75M216.49 180.85L221.51 183.75" stroke="#b8d83a" stroke-width="1.2" fill="none"/>
<path d="M405 11.9H524M405 17.3H524M405 37.3H524M405 43H524M405 55.7H524M405 70.5H524M405 85.6H524M405 106.9H524" stroke="#2a2a2a" stroke-width="1.45" fill="none"/>
<path d="M405 135.4H524" stroke="#2a2a2a" stroke-width="2.2" fill="none"/>
<path d="M410.1 135V15" stroke="#8a3fd0" stroke-width="1.25"/><path d="M410.1 12.8l-1.8 3.8h3.6z" fill="#8a3fd0"/>
<path d="M422.6 12.5V34.8" stroke="#6b9af2" stroke-width="0.8" stroke-dasharray="1 1.1"/><path d="M422.6 37.3l-1.6 -3.2h3.2z" fill="#5b8cf0"/>
<path d="M434.4 12.5V40.5" stroke="#6b9af2" stroke-width="0.8" stroke-dasharray="1 1.1"/><path d="M434.4 43l-1.6 -3.2h3.2z" fill="#5b8cf0"/>
<path d="M451.3 12.5V53.2" stroke="#6b9af2" stroke-width="0.8" stroke-dasharray="1 1.1"/><path d="M451.3 55.7l-1.6 -3.2h3.2z" fill="#5b8cf0"/>
<path d="M422.9 37.3V131.5" stroke="#33cc66" stroke-width="1.4"/><path d="M422.9 134.5l-1.9 -4.2h3.8z" fill="#33cc66"/>
<path d="M438.7 43V131.5" stroke="#c6d65a" stroke-width="1.4"/><path d="M438.7 134.5l-1.9 -4.2h3.8z" fill="#c6d65a"/>
<path d="M455.7 55.7V131.5" stroke="#ee2a2a" stroke-width="1.3"/><path d="M455.7 134.5l-1.9 -4.2h3.8z" fill="#ee2a2a"/>
<path d="M476.2 70.5V131.5" stroke="#c83030" stroke-width="1.1"/><path d="M476.2 134.5l-1.9 -4.2h3.8z" fill="#c83030"/>
<path d="M494.4 43V103.3" stroke="#b83a3a" stroke-width="1"/><path d="M494.4 106.3l-1.9 -4.2h3.8z" fill="#b83a3a"/>
<path d="M505.2 85.6V131.5" stroke="#cc3333" stroke-width="1.1"/><path d="M505.2 134.5l-1.9 -4.2h3.8z" fill="#cc3333"/>
<path d="M424.4 80.8L425 76.8L426.7 83.8L427.4 80.5L430.4 79.7" fill="none" stroke="#22bb55" stroke-width="1.4" stroke-linejoin="round" stroke-linecap="round"/><path d="M431.2 79.5l-2.6 -1.4l0.5 2.6z" fill="#22bb55"/>
<path d="M441.2 80.8L441.8 76.8L443.5 83.8L444.2 80.5L447.2 79.7" fill="none" stroke="#b8cc44" stroke-width="1.4" stroke-linejoin="round" stroke-linecap="round"/><path d="M448 79.5l-2.6 -1.4l0.5 2.6z" fill="#b8cc44"/>
<path d="M458.2 80.6L458.8 76.6L460.5 83.6L461.2 80.3L464.2 79.5" fill="none" stroke="#ee2222" stroke-width="1.4" stroke-linejoin="round" stroke-linecap="round"/><path d="M465 79.3l-2.6 -1.4l0.5 2.6z" fill="#ee2222"/>
<path d="M478.4 80.6L479 76.6L480.7 83.6L481.4 80.3L484.4 79.5" fill="none" stroke="#cc3333" stroke-width="1.4" stroke-linejoin="round" stroke-linecap="round"/><path d="M485.2 79.3l-2.6 -1.4l0.5 2.6z" fill="#cc3333"/>
<path d="M496.6 65.6L497.2 61.6L498.9 68.6L499.6 65.3L502.6 64.5" fill="none" stroke="#c03030" stroke-width="1.4" stroke-linejoin="round" stroke-linecap="round"/><path d="M503.4 64.3l-2.6 -1.4l0.5 2.6z" fill="#c03030"/>
<path d="M508.6 111.6L509.2 107.6L510.9 114.6L511.6 111.3L514.6 110.5" fill="none" stroke="#c83030" stroke-width="1.4" stroke-linejoin="round" stroke-linecap="round"/><path d="M515.4 110.3l-2.6 -1.4l0.5 2.6z" fill="#c83030"/>
<path d="M402.4 99.6L403 95.6L404.7 102.6L405.4 99.3L408.4 98.5" fill="none" stroke="#8a3fd0" stroke-width="1.4" stroke-linejoin="round" stroke-linecap="round"/><path d="M409.2 98.3l-2.6 -1.4l0.5 2.6z" fill="#8a3fd0"/>
<text x="389.2" y="92.2" font-family="Liberation Sans" font-size="6.6" fill="#8a4fd0" stroke="#8a4fd0" stroke-width="0.25">405 nm</text>
<text x="424.7" y="94" font-family="Liberation Sans" font-size="6.6" fill="#33bb66" stroke="#33bb66" stroke-width="0.25">527</text>
<text x="424.7" y="101.6" font-family="Liberation Sans" font-size="6.6" fill="#33bb66" stroke="#33bb66" stroke-width="0.25">nm</text>
<text x="440.5" y="94" font-family="Liberation Sans" font-size="6.6" fill="#bccc55" stroke="#bccc55" stroke-width="0.25">549</text>
<text x="440.5" y="101.6" font-family="Liberation Sans" font-size="6.6" fill="#bccc55" stroke="#bccc55" stroke-width="0.25">nm</text>
<text x="457.5" y="94" font-family="Liberation Sans" font-size="6.6" fill="#ee3333" stroke="#ee3333" stroke-width="0.25">657</text>
<text x="457.5" y="101.6" font-family="Liberation Sans" font-size="6.6" fill="#ee3333" stroke="#ee3333" stroke-width="0.25">nm</text>
<text x="478" y="94" font-family="Liberation Sans" font-size="6.6" fill="#cc4444" stroke="#cc4444" stroke-width="0.25">811</text>
<text x="478" y="101.6" font-family="Liberation Sans" font-size="6.6" fill="#cc4444" stroke="#cc4444" stroke-width="0.25">nm</text>
<text x="495.9" y="80.5" font-family="Liberation Sans" font-size="6.6" fill="#c04848" stroke="#c04848" stroke-width="0.25">865 nm</text>
<text x="507.5" y="120" font-family="Liberation Sans" font-size="6.6" fill="#c84848" stroke="#c84848" stroke-width="0.25">985 nm</text>
<text transform="translate(384.9,22.8) scale(0.95,1)" font-family="Liberation Sans" font-size="14" fill="#222">(c)</text>
<text font-family="Liberation Sans" fill="#333" stroke="#333" stroke-width="0.2"><tspan x="526.5" y="9.7" font-size="5.2">2</tspan><tspan x="529.4" y="13" font-size="7.6">G</tspan><tspan dy="2.4" font-size="6" letter-spacing="0.25">9/2</tspan></text>
<text font-family="Liberation Sans" fill="#333" stroke="#333" stroke-width="0.2"><tspan x="526.5" y="24.2" font-size="5.2">4</tspan><tspan x="529.4" y="27.5" font-size="7.6">F</tspan><tspan dy="2.4" font-size="6" letter-spacing="0.25">7/2</tspan></text>
<text font-family="Liberation Sans" fill="#333" stroke="#333" stroke-width="0.2"><tspan x="526.5" y="35.8" font-size="5.2">2</tspan><tspan x="529.4" y="39.1" font-size="7.6">H</tspan><tspan dy="2.4" font-size="6" letter-spacing="0.25">11/2</tspan></text>
<text font-family="Liberation Sans" fill="#333" stroke="#333" stroke-width="0.2"><tspan x="526.5" y="43.8" font-size="5.2">4</tspan><tspan x="529.4" y="47.1" font-size="7.6">S</tspan><tspan dy="2.4" font-size="6" letter-spacing="0.25">3/2</tspan></text>
<text font-family="Liberation Sans" fill="#333" stroke="#333" stroke-width="0.2"><tspan x="526.5" y="55.4" font-size="5.2">4</tspan><tspan x="529.4" y="58.7" font-size="7.6">F</tspan><tspan dy="2.4" font-size="6" letter-spacing="0.25">9/2</tspan></text>
<text font-family="Liberation Sans" fill="#333" stroke="#333" stroke-width="0.2"><tspan x="526.5" y="70.2" font-size="5.2">4</tspan><tspan x="529.4" y="73.5" font-size="7.6">I</tspan><tspan dy="2.4" font-size="6" letter-spacing="0.25">9/2</tspan></text>
<text font-family="Liberation Sans" fill="#333" stroke="#333" stroke-width="0.2"><tspan x="526.5" y="84.6" font-size="5.2">4</tspan><tspan x="529.4" y="87.9" font-size="7.6">I</tspan><tspan dy="2.4" font-size="6" letter-spacing="0.25">11/2</tspan></text>
<text font-family="Liberation Sans" fill="#333" stroke="#333" stroke-width="0.2"><tspan x="526.5" y="105.5" font-size="5.2">4</tspan><tspan x="529.4" y="108.8" font-size="7.6">I</tspan><tspan dy="2.4" font-size="6" letter-spacing="0.25">13/2</tspan></text>
<text font-family="Liberation Sans" fill="#333" stroke="#333" stroke-width="0.2"><tspan x="526.5" y="134.9" font-size="5.2">4</tspan><tspan x="529.4" y="138.2" font-size="7.6">I</tspan><tspan dy="2.4" font-size="6" letter-spacing="0.25">15/2</tspan></text>
</svg></body></html>
